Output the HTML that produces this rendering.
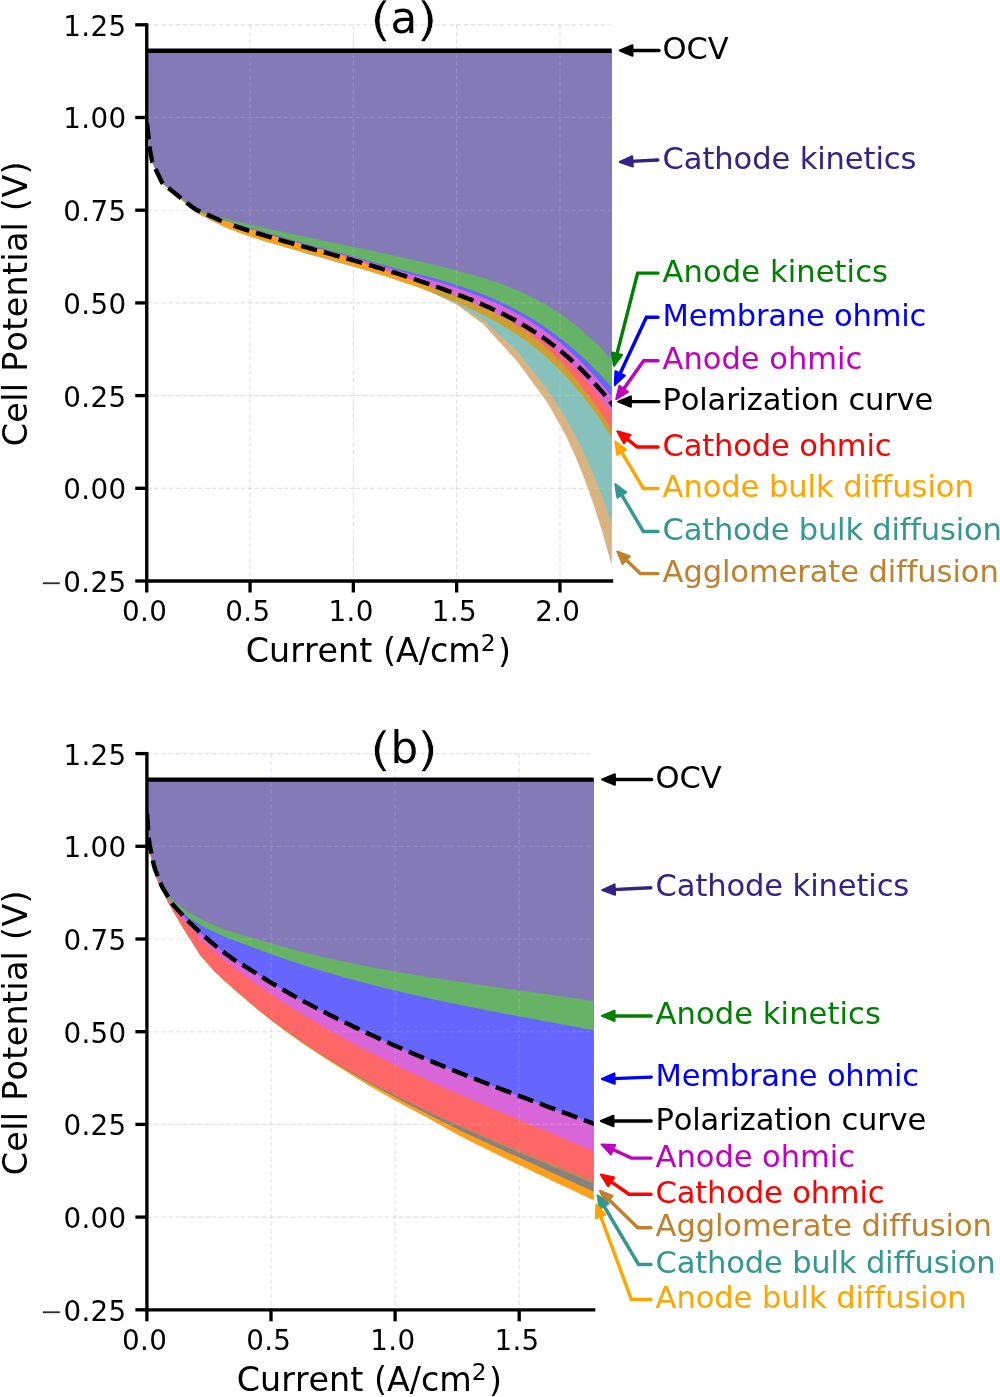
<!DOCTYPE html>
<html><head><meta charset="utf-8"><title>Polarization curve breakdown</title>
<style>html,body{margin:0;padding:0;background:#fff}svg{display:block}text{font-family:'DejaVu Sans','Liberation Sans',sans-serif;font-variant-ligatures:none;font-kerning:none}.g{stroke:#b0b0b0;stroke-opacity:.36;stroke-width:1.15;stroke-dasharray:4.6 2.6;fill:none}.s{stroke:#000;stroke-width:3.33;fill:none}.t{letter-spacing:.33px}</style></head><body>
<svg width="1000" height="1397" viewBox="0 0 1000 1397">
<rect width="1000" height="1397" fill="#fff"/>
<g id="panel-a">
<line x1="146.8" x2="146.8" y1="24.8" y2="581.0" class="g"/>
<line x1="250.1" x2="250.1" y1="24.8" y2="581.0" class="g"/>
<line x1="353.4" x2="353.4" y1="24.8" y2="581.0" class="g"/>
<line x1="456.6" x2="456.6" y1="24.8" y2="581.0" class="g"/>
<line x1="560.0" x2="560.0" y1="24.8" y2="581.0" class="g"/>
<line x1="146.8" x2="611.6" y1="24.8" y2="24.8" class="g"/>
<line x1="146.8" x2="611.6" y1="117.5" y2="117.5" class="g"/>
<line x1="146.8" x2="611.6" y1="210.2" y2="210.2" class="g"/>
<line x1="146.8" x2="611.6" y1="302.9" y2="302.9" class="g"/>
<line x1="146.8" x2="611.6" y1="395.6" y2="395.6" class="g"/>
<line x1="146.8" x2="611.6" y1="488.3" y2="488.3" class="g"/>
<line x1="146.8" x2="611.6" y1="581.0" y2="581.0" class="g"/>
<clipPath id="ca"><rect x="146.8" y="0" width="465.0" height="700"/></clipPath>
<clipPath id="fa"><polygon points="146.9,50.8 148.3,50.8 149.6,50.8 151.0,50.8 152.3,50.8 153.7,50.8 155.1,50.8 156.4,50.8 157.8,50.8 159.2,50.8 160.5,50.8 161.9,50.8 163.2,50.8 164.6,50.8 166.0,50.8 167.3,50.8 168.7,50.8 170.0,50.8 171.4,50.8 172.8,50.8 174.1,50.8 175.5,50.8 176.9,50.8 177.7,50.8 178.2,50.8 179.6,50.8 180.9,50.8 182.3,50.8 183.7,50.8 185.0,50.8 186.4,50.8 187.7,50.8 189.1,50.8 190.5,50.8 191.8,50.8 193.2,50.8 194.6,50.8 195.9,50.8 197.3,50.8 198.6,50.8 200.0,50.8 203.0,50.8 206.0,50.8 208.7,50.8 209.0,50.8 211.9,50.8 214.9,50.8 217.9,50.8 220.9,50.8 223.9,50.8 226.9,50.8 229.8,50.8 232.8,50.8 235.8,50.8 238.8,50.8 239.7,50.8 241.8,50.8 244.8,50.8 247.7,50.8 250.7,50.8 253.7,50.8 256.7,50.8 259.7,50.8 262.7,50.8 265.6,50.8 268.6,50.8 270.7,50.8 271.6,50.8 274.6,50.8 277.6,50.8 280.6,50.8 283.5,50.8 286.5,50.8 289.5,50.8 292.5,50.8 295.5,50.8 298.5,50.8 301.4,50.8 301.7,50.8 304.4,50.8 307.4,50.8 310.4,50.8 313.4,50.8 316.4,50.8 319.3,50.8 322.3,50.8 325.3,50.8 328.3,50.8 331.3,50.8 332.7,50.8 334.3,50.8 337.2,50.8 340.2,50.8 343.2,50.8 346.2,50.8 349.2,50.8 352.2,50.8 355.1,50.8 358.1,50.8 361.1,50.8 363.7,50.8 364.1,50.8 367.1,50.8 370.1,50.8 373.0,50.8 376.0,50.8 379.0,50.8 382.0,50.8 385.0,50.8 388.0,50.8 390.9,50.8 393.9,50.8 394.7,50.8 396.9,50.8 399.9,50.8 402.9,50.8 405.9,50.8 408.8,50.8 411.8,50.8 414.8,50.8 417.8,50.8 420.8,50.8 423.8,50.8 425.7,50.8 426.7,50.8 429.7,50.8 432.7,50.8 435.7,50.8 438.7,50.8 441.7,50.8 444.6,50.8 447.6,50.8 450.6,50.8 453.6,50.8 456.6,50.8 456.7,50.8 459.6,50.8 462.5,50.8 465.5,50.8 468.5,50.8 471.5,50.8 474.5,50.8 477.5,50.8 480.4,50.8 483.2,50.8 483.4,50.8 486.4,50.8 489.4,50.8 492.4,50.8 495.4,50.8 498.3,50.8 501.3,50.8 504.3,50.8 507.3,50.8 510.3,50.8 513.3,50.8 516.2,50.8 517.4,50.8 519.2,50.8 522.2,50.8 525.2,50.8 528.2,50.8 531.2,50.8 534.1,50.8 537.1,50.8 540.1,50.8 543.1,50.8 546.1,50.8 548.0,50.8 549.1,50.8 552.0,50.8 555.0,50.8 558.0,50.8 561.0,50.8 564.0,50.8 566.0,50.8 567.0,50.8 569.9,50.8 572.9,50.8 575.9,50.8 578.9,50.8 581.9,50.8 584.9,50.8 587.8,50.8 590.8,50.8 593.8,50.8 596.8,50.8 599.8,50.8 602.8,50.8 605.7,50.8 608.7,50.8 611.7,50.8 614.7,50.8 614.7,573.0 611.7,564.1 608.7,554.5 605.7,543.9 602.8,533.6 599.8,523.8 596.8,514.4 593.8,505.3 590.8,496.6 587.8,488.2 584.9,480.1 581.9,472.4 578.9,465.0 575.9,457.8 572.9,451.0 569.9,444.5 567.0,438.1 566.0,436.0 564.0,432.3 561.0,426.9 558.0,421.5 555.0,416.1 552.0,410.7 549.1,405.4 548.0,403.4 546.1,400.8 543.1,396.7 540.1,392.7 537.1,388.6 534.1,384.5 531.2,380.5 528.2,376.4 525.2,372.3 522.2,368.3 519.2,364.2 517.4,361.7 516.2,360.4 513.3,357.1 510.3,353.9 507.3,350.6 504.3,347.3 501.3,344.0 498.3,340.7 495.4,337.5 492.4,334.2 489.4,330.9 486.4,327.6 483.4,324.3 483.2,324.1 480.4,322.1 477.5,319.9 474.5,317.7 471.5,315.5 468.5,313.3 465.5,311.2 462.5,309.0 459.6,306.8 456.7,304.7 456.6,304.6 453.6,303.2 450.6,301.7 447.6,300.3 444.6,298.8 441.7,297.4 438.7,295.9 435.7,294.5 432.7,293.0 429.7,291.6 426.7,290.4 425.7,290.0 423.8,289.3 420.8,288.2 417.8,287.1 414.8,286.1 411.8,285.0 408.8,284.0 405.9,283.0 402.9,281.9 399.9,280.9 396.9,279.9 394.7,279.2 393.9,278.9 390.9,278.0 388.0,277.0 385.0,276.0 382.0,275.1 379.0,274.1 376.0,273.2 373.0,272.3 370.1,271.4 367.1,270.5 364.1,269.6 363.7,269.5 361.1,268.8 358.1,268.0 355.1,267.1 352.2,266.3 349.2,265.5 346.2,264.7 343.2,263.9 340.2,263.1 337.2,262.3 334.3,261.5 332.7,261.0 331.3,260.6 328.3,259.8 325.3,258.9 322.3,258.1 319.3,257.2 316.4,256.4 313.4,255.5 310.4,254.7 307.4,253.9 304.4,253.0 301.7,252.2 301.4,252.1 298.5,251.2 295.5,250.2 292.5,249.2 289.5,248.2 286.5,247.4 283.5,246.5 280.6,245.7 277.6,244.8 274.6,244.0 271.6,243.1 270.7,242.9 268.6,242.2 265.6,241.4 262.7,240.4 259.7,239.5 256.7,238.6 253.7,237.6 250.7,236.6 247.7,235.6 244.8,234.6 241.8,233.5 239.7,232.8 238.8,232.4 235.8,231.3 232.8,230.1 229.8,228.9 226.9,227.7 223.9,226.4 220.9,225.0 217.9,223.5 214.9,222.3 211.9,220.9 209.0,219.4 208.7,219.2 206.0,217.8 203.0,216.2 200.0,214.7 198.6,214.0 197.3,213.3 195.9,212.4 194.6,211.4 193.2,210.2 191.8,209.1 190.5,207.9 189.1,206.8 187.7,205.5 186.4,204.3 185.0,203.1 183.7,201.9 182.3,200.6 180.9,199.4 179.6,198.2 178.2,197.0 177.7,196.6 176.9,195.8 175.5,194.6 174.1,193.4 172.8,192.2 171.4,191.0 170.0,189.8 168.7,188.7 167.3,187.5 166.0,186.3 164.6,185.1 163.2,183.9 161.9,182.3 160.5,179.4 159.2,176.5 157.8,173.7 156.4,170.8 155.1,167.9 153.7,165.0 152.3,162.1 151.0,155.7 149.6,148.1 148.3,134.4 146.9,117.0"/></clipPath>
<g clip-path="url(#ca)">
<polygon points="146.9,50.8 148.3,50.8 149.6,50.8 151.0,50.8 152.3,50.8 153.7,50.8 155.1,50.8 156.4,50.8 157.8,50.8 159.2,50.8 160.5,50.8 161.9,50.8 163.2,50.8 164.6,50.8 166.0,50.8 167.3,50.8 168.7,50.8 170.0,50.8 171.4,50.8 172.8,50.8 174.1,50.8 175.5,50.8 176.9,50.8 177.7,50.8 178.2,50.8 179.6,50.8 180.9,50.8 182.3,50.8 183.7,50.8 185.0,50.8 186.4,50.8 187.7,50.8 189.1,50.8 190.5,50.8 191.8,50.8 193.2,50.8 194.6,50.8 195.9,50.8 197.3,50.8 198.6,50.8 200.0,50.8 203.0,50.8 206.0,50.8 208.7,50.8 209.0,50.8 211.9,50.8 214.9,50.8 217.9,50.8 220.9,50.8 223.9,50.8 226.9,50.8 229.8,50.8 232.8,50.8 235.8,50.8 238.8,50.8 239.7,50.8 241.8,50.8 244.8,50.8 247.7,50.8 250.7,50.8 253.7,50.8 256.7,50.8 259.7,50.8 262.7,50.8 265.6,50.8 268.6,50.8 270.7,50.8 271.6,50.8 274.6,50.8 277.6,50.8 280.6,50.8 283.5,50.8 286.5,50.8 289.5,50.8 292.5,50.8 295.5,50.8 298.5,50.8 301.4,50.8 301.7,50.8 304.4,50.8 307.4,50.8 310.4,50.8 313.4,50.8 316.4,50.8 319.3,50.8 322.3,50.8 325.3,50.8 328.3,50.8 331.3,50.8 332.7,50.8 334.3,50.8 337.2,50.8 340.2,50.8 343.2,50.8 346.2,50.8 349.2,50.8 352.2,50.8 355.1,50.8 358.1,50.8 361.1,50.8 363.7,50.8 364.1,50.8 367.1,50.8 370.1,50.8 373.0,50.8 376.0,50.8 379.0,50.8 382.0,50.8 385.0,50.8 388.0,50.8 390.9,50.8 393.9,50.8 394.7,50.8 396.9,50.8 399.9,50.8 402.9,50.8 405.9,50.8 408.8,50.8 411.8,50.8 414.8,50.8 417.8,50.8 420.8,50.8 423.8,50.8 425.7,50.8 426.7,50.8 429.7,50.8 432.7,50.8 435.7,50.8 438.7,50.8 441.7,50.8 444.6,50.8 447.6,50.8 450.6,50.8 453.6,50.8 456.6,50.8 456.7,50.8 459.6,50.8 462.5,50.8 465.5,50.8 468.5,50.8 471.5,50.8 474.5,50.8 477.5,50.8 480.4,50.8 483.2,50.8 483.4,50.8 486.4,50.8 489.4,50.8 492.4,50.8 495.4,50.8 498.3,50.8 501.3,50.8 504.3,50.8 507.3,50.8 510.3,50.8 513.3,50.8 516.2,50.8 517.4,50.8 519.2,50.8 522.2,50.8 525.2,50.8 528.2,50.8 531.2,50.8 534.1,50.8 537.1,50.8 540.1,50.8 543.1,50.8 546.1,50.8 548.0,50.8 549.1,50.8 552.0,50.8 555.0,50.8 558.0,50.8 561.0,50.8 564.0,50.8 566.0,50.8 567.0,50.8 569.9,50.8 572.9,50.8 575.9,50.8 578.9,50.8 581.9,50.8 584.9,50.8 587.8,50.8 590.8,50.8 593.8,50.8 596.8,50.8 599.8,50.8 602.8,50.8 605.7,50.8 608.7,50.8 611.7,50.8 614.7,50.8 614.7,573.0 611.7,564.1 608.7,554.5 605.7,543.9 602.8,533.6 599.8,523.8 596.8,514.4 593.8,505.3 590.8,496.6 587.8,488.2 584.9,480.1 581.9,472.4 578.9,465.0 575.9,457.8 572.9,451.0 569.9,444.5 567.0,438.1 566.0,436.0 564.0,432.3 561.0,426.9 558.0,421.5 555.0,416.1 552.0,410.7 549.1,405.4 548.0,403.4 546.1,400.8 543.1,396.7 540.1,392.7 537.1,388.6 534.1,384.5 531.2,380.5 528.2,376.4 525.2,372.3 522.2,368.3 519.2,364.2 517.4,361.7 516.2,360.4 513.3,357.1 510.3,353.9 507.3,350.6 504.3,347.3 501.3,344.0 498.3,340.7 495.4,337.5 492.4,334.2 489.4,330.9 486.4,327.6 483.4,324.3 483.2,324.1 480.4,322.1 477.5,319.9 474.5,317.7 471.5,315.5 468.5,313.3 465.5,311.2 462.5,309.0 459.6,306.8 456.7,304.7 456.6,304.6 453.6,303.2 450.6,301.7 447.6,300.3 444.6,298.8 441.7,297.4 438.7,295.9 435.7,294.5 432.7,293.0 429.7,291.6 426.7,290.4 425.7,290.0 423.8,289.3 420.8,288.2 417.8,287.1 414.8,286.1 411.8,285.0 408.8,284.0 405.9,283.0 402.9,281.9 399.9,280.9 396.9,279.9 394.7,279.2 393.9,278.9 390.9,278.0 388.0,277.0 385.0,276.0 382.0,275.1 379.0,274.1 376.0,273.2 373.0,272.3 370.1,271.4 367.1,270.5 364.1,269.6 363.7,269.5 361.1,268.8 358.1,268.0 355.1,267.1 352.2,266.3 349.2,265.5 346.2,264.7 343.2,263.9 340.2,263.1 337.2,262.3 334.3,261.5 332.7,261.0 331.3,260.6 328.3,259.8 325.3,258.9 322.3,258.1 319.3,257.2 316.4,256.4 313.4,255.5 310.4,254.7 307.4,253.9 304.4,253.0 301.7,252.2 301.4,252.1 298.5,251.2 295.5,250.2 292.5,249.2 289.5,248.2 286.5,247.4 283.5,246.5 280.6,245.7 277.6,244.8 274.6,244.0 271.6,243.1 270.7,242.9 268.6,242.2 265.6,241.4 262.7,240.4 259.7,239.5 256.7,238.6 253.7,237.6 250.7,236.6 247.7,235.6 244.8,234.6 241.8,233.5 239.7,232.8 238.8,232.4 235.8,231.3 232.8,230.1 229.8,228.9 226.9,227.7 223.9,226.4 220.9,225.0 217.9,223.5 214.9,222.3 211.9,220.9 209.0,219.4 208.7,219.2 206.0,217.8 203.0,216.2 200.0,214.7 198.6,214.0 197.3,213.3 195.9,212.4 194.6,211.4 193.2,210.2 191.8,209.1 190.5,207.9 189.1,206.8 187.7,205.5 186.4,204.3 185.0,203.1 183.7,201.9 182.3,200.6 180.9,199.4 179.6,198.2 178.2,197.0 177.7,196.6 176.9,195.8 175.5,194.6 174.1,193.4 172.8,192.2 171.4,191.0 170.0,189.8 168.7,188.7 167.3,187.5 166.0,186.3 164.6,185.1 163.2,183.9 161.9,182.3 160.5,179.4 159.2,176.5 157.8,173.7 156.4,170.8 155.1,167.9 153.7,165.0 152.3,162.1 151.0,155.7 149.6,148.1 148.3,134.4 146.9,117.0" fill="#d9b381"/>
<polygon points="146.9,50.8 148.3,50.8 149.6,50.8 151.0,50.8 152.3,50.8 153.7,50.8 155.1,50.8 156.4,50.8 157.8,50.8 159.2,50.8 160.5,50.8 161.9,50.8 163.2,50.8 164.6,50.8 166.0,50.8 167.3,50.8 168.7,50.8 170.0,50.8 171.4,50.8 172.8,50.8 174.1,50.8 175.5,50.8 176.9,50.8 177.7,50.8 178.2,50.8 179.6,50.8 180.9,50.8 182.3,50.8 183.7,50.8 185.0,50.8 186.4,50.8 187.7,50.8 189.1,50.8 190.5,50.8 191.8,50.8 193.2,50.8 194.6,50.8 195.9,50.8 197.3,50.8 198.6,50.8 200.0,50.8 203.0,50.8 206.0,50.8 208.7,50.8 209.0,50.8 211.9,50.8 214.9,50.8 217.9,50.8 220.9,50.8 223.9,50.8 226.9,50.8 229.8,50.8 232.8,50.8 235.8,50.8 238.8,50.8 239.7,50.8 241.8,50.8 244.8,50.8 247.7,50.8 250.7,50.8 253.7,50.8 256.7,50.8 259.7,50.8 262.7,50.8 265.6,50.8 268.6,50.8 270.7,50.8 271.6,50.8 274.6,50.8 277.6,50.8 280.6,50.8 283.5,50.8 286.5,50.8 289.5,50.8 292.5,50.8 295.5,50.8 298.5,50.8 301.4,50.8 301.7,50.8 304.4,50.8 307.4,50.8 310.4,50.8 313.4,50.8 316.4,50.8 319.3,50.8 322.3,50.8 325.3,50.8 328.3,50.8 331.3,50.8 332.7,50.8 334.3,50.8 337.2,50.8 340.2,50.8 343.2,50.8 346.2,50.8 349.2,50.8 352.2,50.8 355.1,50.8 358.1,50.8 361.1,50.8 363.7,50.8 364.1,50.8 367.1,50.8 370.1,50.8 373.0,50.8 376.0,50.8 379.0,50.8 382.0,50.8 385.0,50.8 388.0,50.8 390.9,50.8 393.9,50.8 394.7,50.8 396.9,50.8 399.9,50.8 402.9,50.8 405.9,50.8 408.8,50.8 411.8,50.8 414.8,50.8 417.8,50.8 420.8,50.8 423.8,50.8 425.7,50.8 426.7,50.8 429.7,50.8 432.7,50.8 435.7,50.8 438.7,50.8 441.7,50.8 444.6,50.8 447.6,50.8 450.6,50.8 453.6,50.8 456.6,50.8 456.7,50.8 459.6,50.8 462.5,50.8 465.5,50.8 468.5,50.8 471.5,50.8 474.5,50.8 477.5,50.8 480.4,50.8 483.2,50.8 483.4,50.8 486.4,50.8 489.4,50.8 492.4,50.8 495.4,50.8 498.3,50.8 501.3,50.8 504.3,50.8 507.3,50.8 510.3,50.8 513.3,50.8 516.2,50.8 517.4,50.8 519.2,50.8 522.2,50.8 525.2,50.8 528.2,50.8 531.2,50.8 534.1,50.8 537.1,50.8 540.1,50.8 543.1,50.8 546.1,50.8 548.0,50.8 549.1,50.8 552.0,50.8 555.0,50.8 558.0,50.8 561.0,50.8 564.0,50.8 566.0,50.8 567.0,50.8 569.9,50.8 572.9,50.8 575.9,50.8 578.9,50.8 581.9,50.8 584.9,50.8 587.8,50.8 590.8,50.8 593.8,50.8 596.8,50.8 599.8,50.8 602.8,50.8 605.7,50.8 608.7,50.8 611.7,50.8 614.7,50.8 614.7,529.4 611.7,522.5 608.7,514.9 605.7,506.5 602.8,498.3 599.8,490.5 596.8,482.8 593.8,475.5 590.8,468.4 587.8,461.6 584.9,455.0 581.9,448.6 578.9,442.5 575.9,436.6 572.9,430.9 569.9,425.4 567.0,420.0 566.0,418.3 564.0,415.1 561.0,410.5 558.0,405.9 555.0,401.2 552.0,396.6 549.1,392.0 548.0,390.3 546.1,387.9 543.1,384.0 540.1,380.2 537.1,376.4 534.1,372.6 531.2,368.8 528.2,365.0 525.2,361.2 522.2,357.4 519.2,353.5 517.4,351.2 516.2,350.1 513.3,347.4 510.3,344.6 507.3,341.9 504.3,339.1 501.3,336.4 498.3,333.6 495.4,330.9 492.4,328.1 489.4,325.4 486.4,322.6 483.4,319.9 483.2,319.7 480.4,318.0 477.5,316.2 474.5,314.4 471.5,312.5 468.5,310.7 465.5,308.9 462.5,307.1 459.6,305.3 456.7,303.5 456.6,303.5 453.6,302.1 450.6,300.8 447.6,299.5 444.6,298.1 441.7,296.8 438.7,295.5 435.7,294.1 432.7,292.8 429.7,291.5 426.7,290.4 425.7,290.0 423.8,289.3 420.8,288.2 417.8,287.1 414.8,286.1 411.8,285.0 408.8,284.0 405.9,283.0 402.9,281.9 399.9,280.9 396.9,279.9 394.7,279.2 393.9,278.9 390.9,278.0 388.0,277.0 385.0,276.0 382.0,275.1 379.0,274.1 376.0,273.2 373.0,272.3 370.1,271.4 367.1,270.5 364.1,269.6 363.7,269.5 361.1,268.8 358.1,268.0 355.1,267.1 352.2,266.3 349.2,265.5 346.2,264.7 343.2,263.8 340.2,263.0 337.2,262.2 334.3,261.4 332.7,261.0 331.3,260.5 328.3,259.7 325.3,258.8 322.3,258.0 319.3,257.1 316.4,256.2 313.4,255.4 310.4,254.5 307.4,253.7 304.4,252.8 301.7,252.0 301.4,251.9 298.5,251.0 295.5,250.0 292.5,249.0 289.5,248.2 286.5,247.4 283.5,246.5 280.6,245.7 277.6,244.8 274.6,244.0 271.6,243.1 270.7,242.9 268.6,242.2 265.6,241.4 262.7,240.4 259.7,239.5 256.7,238.6 253.7,237.6 250.7,236.6 247.7,235.6 244.8,234.6 241.8,233.5 239.7,232.8 238.8,232.4 235.8,231.3 232.8,230.1 229.8,228.9 226.9,227.7 223.9,226.4 220.9,225.0 217.9,223.5 214.9,222.3 211.9,220.9 209.0,219.4 208.7,219.2 206.0,217.8 203.0,216.2 200.0,214.7 198.6,214.0 197.3,213.3 195.9,212.4 194.6,211.4 193.2,210.2 191.8,209.1 190.5,207.9 189.1,206.7 187.7,205.5 186.4,204.3 185.0,203.1 183.7,201.9 182.3,200.6 180.9,199.4 179.6,198.2 178.2,197.0 177.7,196.6 176.9,195.8 175.5,194.6 174.1,193.4 172.8,192.2 171.4,191.0 170.0,189.8 168.7,188.7 167.3,187.5 166.0,186.3 164.6,185.1 163.2,183.9 161.9,182.3 160.5,179.4 159.2,176.5 157.8,173.7 156.4,170.8 155.1,167.9 153.7,165.0 152.3,162.1 151.0,155.7 149.6,148.1 148.3,134.4 146.9,117.0" fill="#86c1bc"/>
<linearGradient id="og" gradientUnits="userSpaceOnUse" x1="416" y1="0" x2="438" y2="0"><stop offset="0" stop-color="#ff9f1a"/><stop offset="1" stop-color="#cda02d"/></linearGradient>
<polygon points="146.9,50.8 148.3,50.8 149.6,50.8 151.0,50.8 152.3,50.8 153.7,50.8 155.1,50.8 156.4,50.8 157.8,50.8 159.2,50.8 160.5,50.8 161.9,50.8 163.2,50.8 164.6,50.8 166.0,50.8 167.3,50.8 168.7,50.8 170.0,50.8 171.4,50.8 172.8,50.8 174.1,50.8 175.5,50.8 176.9,50.8 177.7,50.8 178.2,50.8 179.6,50.8 180.9,50.8 182.3,50.8 183.7,50.8 185.0,50.8 186.4,50.8 187.7,50.8 189.1,50.8 190.5,50.8 191.8,50.8 193.2,50.8 194.6,50.8 195.9,50.8 197.3,50.8 198.6,50.8 200.0,50.8 203.0,50.8 206.0,50.8 208.7,50.8 209.0,50.8 211.9,50.8 214.9,50.8 217.9,50.8 220.9,50.8 223.9,50.8 226.9,50.8 229.8,50.8 232.8,50.8 235.8,50.8 238.8,50.8 239.7,50.8 241.8,50.8 244.8,50.8 247.7,50.8 250.7,50.8 253.7,50.8 256.7,50.8 259.7,50.8 262.7,50.8 265.6,50.8 268.6,50.8 270.7,50.8 271.6,50.8 274.6,50.8 277.6,50.8 280.6,50.8 283.5,50.8 286.5,50.8 289.5,50.8 292.5,50.8 295.5,50.8 298.5,50.8 301.4,50.8 301.7,50.8 304.4,50.8 307.4,50.8 310.4,50.8 313.4,50.8 316.4,50.8 319.3,50.8 322.3,50.8 325.3,50.8 328.3,50.8 331.3,50.8 332.7,50.8 334.3,50.8 337.2,50.8 340.2,50.8 343.2,50.8 346.2,50.8 349.2,50.8 352.2,50.8 355.1,50.8 358.1,50.8 361.1,50.8 363.7,50.8 364.1,50.8 367.1,50.8 370.1,50.8 373.0,50.8 376.0,50.8 379.0,50.8 382.0,50.8 385.0,50.8 388.0,50.8 390.9,50.8 393.9,50.8 394.7,50.8 396.9,50.8 399.9,50.8 402.9,50.8 405.9,50.8 408.8,50.8 411.8,50.8 414.8,50.8 417.8,50.8 420.8,50.8 423.8,50.8 425.7,50.8 426.7,50.8 429.7,50.8 432.7,50.8 435.7,50.8 438.7,50.8 441.7,50.8 444.6,50.8 447.6,50.8 450.6,50.8 453.6,50.8 456.6,50.8 456.7,50.8 459.6,50.8 462.5,50.8 465.5,50.8 468.5,50.8 471.5,50.8 474.5,50.8 477.5,50.8 480.4,50.8 483.2,50.8 483.4,50.8 486.4,50.8 489.4,50.8 492.4,50.8 495.4,50.8 498.3,50.8 501.3,50.8 504.3,50.8 507.3,50.8 510.3,50.8 513.3,50.8 516.2,50.8 517.4,50.8 519.2,50.8 522.2,50.8 525.2,50.8 528.2,50.8 531.2,50.8 534.1,50.8 537.1,50.8 540.1,50.8 543.1,50.8 546.1,50.8 548.0,50.8 549.1,50.8 552.0,50.8 555.0,50.8 558.0,50.8 561.0,50.8 564.0,50.8 566.0,50.8 567.0,50.8 569.9,50.8 572.9,50.8 575.9,50.8 578.9,50.8 581.9,50.8 584.9,50.8 587.8,50.8 590.8,50.8 593.8,50.8 596.8,50.8 599.8,50.8 602.8,50.8 605.7,50.8 608.7,50.8 611.7,50.8 614.7,50.8 614.7,442.5 611.7,437.6 608.7,432.8 605.7,428.1 602.8,423.5 599.8,419.1 596.8,414.8 593.8,410.6 590.8,406.5 587.8,402.5 584.9,398.7 581.9,394.9 578.9,391.2 575.9,387.7 572.9,384.2 569.9,380.8 567.0,377.6 566.0,376.5 564.0,374.4 561.0,371.3 558.0,368.3 555.0,365.4 552.0,362.5 549.1,359.8 548.0,358.8 546.1,357.1 543.1,354.5 540.1,352.0 537.1,349.5 534.1,347.1 531.2,344.8 528.2,342.6 525.2,340.4 522.2,338.3 519.2,336.2 517.4,334.9 516.2,334.2 513.3,332.2 510.3,330.3 507.3,328.4 504.3,326.6 501.3,324.9 498.3,323.1 495.4,321.5 492.4,319.8 489.4,318.2 486.4,316.6 483.4,315.1 483.2,315.0 480.4,313.6 477.5,312.1 474.5,310.6 471.5,309.2 468.5,307.8 465.5,306.4 462.5,305.1 459.6,303.7 456.7,302.5 456.6,302.4 453.6,301.1 450.6,299.9 447.6,298.6 444.6,297.4 441.7,296.2 438.7,295.0 435.7,293.8 432.7,292.7 429.7,291.5 426.7,290.4 425.7,290.0 423.8,289.3 420.8,288.2 417.8,287.1 414.8,286.1 411.8,285.0 408.8,284.0 405.9,283.0 402.9,281.9 399.9,280.9 396.9,279.9 394.7,279.2 393.9,278.9 390.9,278.0 388.0,277.0 385.0,276.0 382.0,275.1 379.0,274.1 376.0,273.2 373.0,272.2 370.1,271.3 367.1,270.4 364.1,269.5 363.7,269.4 361.1,268.6 358.1,267.7 355.1,266.8 352.2,265.9 349.2,265.0 346.2,264.1 343.2,263.3 340.2,262.4 337.2,261.5 334.3,260.7 332.7,260.2 331.3,259.8 328.3,259.0 325.3,258.1 322.3,257.3 319.3,256.4 316.4,255.6 313.4,254.8 310.4,254.0 307.4,253.1 304.4,252.3 301.7,251.5 301.4,251.5 298.5,250.7 295.5,249.8 292.5,249.0 289.5,248.2 286.5,247.4 283.5,246.5 280.6,245.7 277.6,244.8 274.6,244.0 271.6,243.1 270.7,242.9 268.6,242.2 265.6,241.4 262.7,240.4 259.7,239.5 256.7,238.6 253.7,237.6 250.7,236.6 247.7,235.6 244.8,234.6 241.8,233.5 239.7,232.8 238.8,232.4 235.8,231.3 232.8,230.1 229.8,228.9 226.9,227.7 223.9,226.4 220.9,225.0 217.9,223.5 214.9,222.0 211.9,220.4 209.0,218.8 208.7,218.6 206.0,217.2 203.0,215.6 200.0,214.0 198.6,213.4 197.3,212.7 195.9,211.9 194.6,210.9 193.2,209.8 191.8,208.7 190.5,207.6 189.1,206.5 187.7,205.3 186.4,204.1 185.0,202.9 183.7,201.8 182.3,200.6 180.9,199.4 179.6,198.2 178.2,197.0 177.7,196.5 176.9,195.8 175.5,194.6 174.1,193.4 172.8,192.2 171.4,191.0 170.0,189.8 168.7,188.7 167.3,187.5 166.0,186.3 164.6,185.1 163.2,183.9 161.9,182.3 160.5,179.4 159.2,176.5 157.8,173.7 156.4,170.8 155.1,167.9 153.7,165.0 152.3,162.1 151.0,155.7 149.6,148.1 148.3,134.4 146.9,117.0" fill="url(#og)"/>
<polygon points="146.9,50.8 148.3,50.8 149.6,50.8 151.0,50.8 152.3,50.8 153.7,50.8 155.1,50.8 156.4,50.8 157.8,50.8 159.2,50.8 160.5,50.8 161.9,50.8 163.2,50.8 164.6,50.8 166.0,50.8 167.3,50.8 168.7,50.8 170.0,50.8 171.4,50.8 172.8,50.8 174.1,50.8 175.5,50.8 176.9,50.8 177.7,50.8 178.2,50.8 179.6,50.8 180.9,50.8 182.3,50.8 183.7,50.8 185.0,50.8 186.4,50.8 187.7,50.8 189.1,50.8 190.5,50.8 191.8,50.8 193.2,50.8 194.6,50.8 195.9,50.8 197.3,50.8 198.6,50.8 200.0,50.8 203.0,50.8 206.0,50.8 208.7,50.8 209.0,50.8 211.9,50.8 214.9,50.8 217.9,50.8 220.9,50.8 223.9,50.8 226.9,50.8 229.8,50.8 232.8,50.8 235.8,50.8 238.8,50.8 239.7,50.8 241.8,50.8 244.8,50.8 247.7,50.8 250.7,50.8 253.7,50.8 256.7,50.8 259.7,50.8 262.7,50.8 265.6,50.8 268.6,50.8 270.7,50.8 271.6,50.8 274.6,50.8 277.6,50.8 280.6,50.8 283.5,50.8 286.5,50.8 289.5,50.8 292.5,50.8 295.5,50.8 298.5,50.8 301.4,50.8 301.7,50.8 304.4,50.8 307.4,50.8 310.4,50.8 313.4,50.8 316.4,50.8 319.3,50.8 322.3,50.8 325.3,50.8 328.3,50.8 331.3,50.8 332.7,50.8 334.3,50.8 337.2,50.8 340.2,50.8 343.2,50.8 346.2,50.8 349.2,50.8 352.2,50.8 355.1,50.8 358.1,50.8 361.1,50.8 363.7,50.8 364.1,50.8 367.1,50.8 370.1,50.8 373.0,50.8 376.0,50.8 379.0,50.8 382.0,50.8 385.0,50.8 388.0,50.8 390.9,50.8 393.9,50.8 394.7,50.8 396.9,50.8 399.9,50.8 402.9,50.8 405.9,50.8 408.8,50.8 411.8,50.8 414.8,50.8 417.8,50.8 420.8,50.8 423.8,50.8 425.7,50.8 426.7,50.8 429.7,50.8 432.7,50.8 435.7,50.8 438.7,50.8 441.7,50.8 444.6,50.8 447.6,50.8 450.6,50.8 453.6,50.8 456.6,50.8 456.7,50.8 459.6,50.8 462.5,50.8 465.5,50.8 468.5,50.8 471.5,50.8 474.5,50.8 477.5,50.8 480.4,50.8 483.2,50.8 483.4,50.8 486.4,50.8 489.4,50.8 492.4,50.8 495.4,50.8 498.3,50.8 501.3,50.8 504.3,50.8 507.3,50.8 510.3,50.8 513.3,50.8 516.2,50.8 517.4,50.8 519.2,50.8 522.2,50.8 525.2,50.8 528.2,50.8 531.2,50.8 534.1,50.8 537.1,50.8 540.1,50.8 543.1,50.8 546.1,50.8 548.0,50.8 549.1,50.8 552.0,50.8 555.0,50.8 558.0,50.8 561.0,50.8 564.0,50.8 566.0,50.8 567.0,50.8 569.9,50.8 572.9,50.8 575.9,50.8 578.9,50.8 581.9,50.8 584.9,50.8 587.8,50.8 590.8,50.8 593.8,50.8 596.8,50.8 599.8,50.8 602.8,50.8 605.7,50.8 608.7,50.8 611.7,50.8 614.7,50.8 614.7,435.0 611.7,429.8 608.7,424.8 605.7,420.1 602.8,415.5 599.8,411.1 596.8,406.9 593.8,402.7 590.8,398.6 587.8,394.6 584.9,390.7 581.9,386.8 578.9,383.0 575.9,379.3 572.9,375.6 569.9,372.1 567.0,368.6 566.0,367.5 564.0,365.3 561.0,362.0 558.0,358.9 555.0,355.9 552.0,352.9 549.1,350.1 548.0,349.1 546.1,347.4 543.1,344.8 540.1,342.3 537.1,339.8 534.1,337.5 531.2,335.2 528.2,333.0 525.2,330.9 522.2,328.8 519.2,326.9 517.4,325.7 516.2,325.0 513.3,323.1 510.3,321.3 507.3,319.6 504.3,317.9 501.3,316.3 498.3,314.7 495.4,313.2 492.4,311.7 489.4,310.3 486.4,309.0 483.4,307.6 483.2,307.5 480.4,306.3 477.5,305.0 474.5,303.6 471.5,302.4 468.5,301.1 465.5,299.8 462.5,298.6 459.6,297.4 456.7,296.2 456.6,296.1 453.6,294.9 450.6,293.8 447.6,292.6 444.6,291.4 441.7,290.3 438.7,289.2 435.7,288.0 432.7,286.9 429.7,285.8 426.7,284.7 425.7,284.3 423.8,283.7 420.8,282.7 417.8,281.6 414.8,280.6 411.8,279.6 408.8,278.7 405.9,277.7 402.9,276.7 399.9,275.7 396.9,274.7 394.7,273.8 393.9,273.6 390.9,272.5 388.0,271.4 385.0,270.4 382.0,269.3 379.0,268.3 376.0,267.2 373.0,266.1 370.1,265.1 367.1,264.0 364.1,263.0 363.7,262.9 361.1,261.9 358.1,260.9 355.1,259.8 352.2,258.8 349.2,257.8 346.2,256.9 343.2,255.9 340.2,255.0 337.2,254.1 334.3,253.1 332.7,252.7 331.3,252.2 328.3,251.3 325.3,250.4 322.3,249.5 319.3,248.7 316.4,247.8 313.4,246.9 310.4,246.1 307.4,245.3 304.4,244.4 301.7,243.7 301.4,243.6 298.5,242.8 295.5,242.0 292.5,241.2 289.5,240.3 286.5,239.5 283.5,238.6 280.6,237.8 277.6,236.9 274.6,236.1 271.6,235.2 270.7,234.9 268.6,234.3 265.6,233.4 262.7,232.6 259.7,231.7 256.7,230.8 253.7,229.8 250.7,228.9 247.7,228.0 244.8,227.0 241.8,226.1 239.7,225.4 238.8,225.1 235.8,224.1 232.8,223.1 229.8,222.2 226.9,221.5 223.9,220.7 220.9,219.9 217.9,219.0 214.9,218.0 211.9,216.9 209.0,215.7 208.7,215.7 206.0,214.6 203.0,213.4 200.0,212.2 198.6,211.6 197.3,211.0 195.9,210.2 194.6,209.2 193.2,208.2 191.8,207.2 190.5,206.1 189.1,205.0 187.7,203.9 186.4,202.8 185.0,201.6 183.7,200.5 182.3,199.3 180.9,198.2 179.6,197.1 178.2,196.0 177.7,195.6 176.9,194.8 175.5,193.7 174.1,192.6 172.8,191.5 171.4,190.4 170.0,189.3 168.7,188.2 167.3,187.1 166.0,186.0 164.6,184.9 163.2,183.8 161.9,182.3 160.5,179.4 159.2,176.5 157.8,173.7 156.4,170.8 155.1,167.9 153.7,165.0 152.3,162.1 151.0,155.7 149.6,148.1 148.3,134.4 146.9,117.0" fill="#ff6666"/>
<polygon points="146.9,50.8 148.3,50.8 149.6,50.8 151.0,50.8 152.3,50.8 153.7,50.8 155.1,50.8 156.4,50.8 157.8,50.8 159.2,50.8 160.5,50.8 161.9,50.8 163.2,50.8 164.6,50.8 166.0,50.8 167.3,50.8 168.7,50.8 170.0,50.8 171.4,50.8 172.8,50.8 174.1,50.8 175.5,50.8 176.9,50.8 177.7,50.8 178.2,50.8 179.6,50.8 180.9,50.8 182.3,50.8 183.7,50.8 185.0,50.8 186.4,50.8 187.7,50.8 189.1,50.8 190.5,50.8 191.8,50.8 193.2,50.8 194.6,50.8 195.9,50.8 197.3,50.8 198.6,50.8 200.0,50.8 203.0,50.8 206.0,50.8 208.7,50.8 209.0,50.8 211.9,50.8 214.9,50.8 217.9,50.8 220.9,50.8 223.9,50.8 226.9,50.8 229.8,50.8 232.8,50.8 235.8,50.8 238.8,50.8 239.7,50.8 241.8,50.8 244.8,50.8 247.7,50.8 250.7,50.8 253.7,50.8 256.7,50.8 259.7,50.8 262.7,50.8 265.6,50.8 268.6,50.8 270.7,50.8 271.6,50.8 274.6,50.8 277.6,50.8 280.6,50.8 283.5,50.8 286.5,50.8 289.5,50.8 292.5,50.8 295.5,50.8 298.5,50.8 301.4,50.8 301.7,50.8 304.4,50.8 307.4,50.8 310.4,50.8 313.4,50.8 316.4,50.8 319.3,50.8 322.3,50.8 325.3,50.8 328.3,50.8 331.3,50.8 332.7,50.8 334.3,50.8 337.2,50.8 340.2,50.8 343.2,50.8 346.2,50.8 349.2,50.8 352.2,50.8 355.1,50.8 358.1,50.8 361.1,50.8 363.7,50.8 364.1,50.8 367.1,50.8 370.1,50.8 373.0,50.8 376.0,50.8 379.0,50.8 382.0,50.8 385.0,50.8 388.0,50.8 390.9,50.8 393.9,50.8 394.7,50.8 396.9,50.8 399.9,50.8 402.9,50.8 405.9,50.8 408.8,50.8 411.8,50.8 414.8,50.8 417.8,50.8 420.8,50.8 423.8,50.8 425.7,50.8 426.7,50.8 429.7,50.8 432.7,50.8 435.7,50.8 438.7,50.8 441.7,50.8 444.6,50.8 447.6,50.8 450.6,50.8 453.6,50.8 456.6,50.8 456.7,50.8 459.6,50.8 462.5,50.8 465.5,50.8 468.5,50.8 471.5,50.8 474.5,50.8 477.5,50.8 480.4,50.8 483.2,50.8 483.4,50.8 486.4,50.8 489.4,50.8 492.4,50.8 495.4,50.8 498.3,50.8 501.3,50.8 504.3,50.8 507.3,50.8 510.3,50.8 513.3,50.8 516.2,50.8 517.4,50.8 519.2,50.8 522.2,50.8 525.2,50.8 528.2,50.8 531.2,50.8 534.1,50.8 537.1,50.8 540.1,50.8 543.1,50.8 546.1,50.8 548.0,50.8 549.1,50.8 552.0,50.8 555.0,50.8 558.0,50.8 561.0,50.8 564.0,50.8 566.0,50.8 567.0,50.8 569.9,50.8 572.9,50.8 575.9,50.8 578.9,50.8 581.9,50.8 584.9,50.8 587.8,50.8 590.8,50.8 593.8,50.8 596.8,50.8 599.8,50.8 602.8,50.8 605.7,50.8 608.7,50.8 611.7,50.8 614.7,50.8 614.7,417.4 611.7,413.0 608.7,408.8 605.7,404.8 602.8,400.8 599.8,396.9 596.8,393.2 593.8,389.5 590.8,386.0 587.8,382.6 584.9,379.2 581.9,376.0 578.9,372.8 575.9,369.7 572.9,366.8 569.9,363.9 567.0,361.1 566.0,360.2 564.0,358.3 561.0,355.7 558.0,353.1 555.0,350.6 552.0,348.2 549.1,345.9 548.0,345.0 546.1,343.6 543.1,341.4 540.1,339.2 537.1,337.1 534.1,335.1 531.2,333.1 528.2,331.2 525.2,329.4 522.2,327.6 519.2,325.8 517.4,324.7 516.2,324.1 513.3,322.4 510.3,320.8 507.3,319.2 504.3,317.6 501.3,316.1 498.3,314.6 495.4,313.2 492.4,311.7 489.4,310.3 486.4,309.0 483.4,307.6 483.2,307.5 480.4,306.3 477.5,305.0 474.5,303.6 471.5,302.4 468.5,301.1 465.5,299.8 462.5,298.6 459.6,297.4 456.7,296.2 456.6,296.1 453.6,294.9 450.6,293.8 447.6,292.6 444.6,291.4 441.7,290.3 438.7,289.2 435.7,288.0 432.7,286.9 429.7,285.8 426.7,284.7 425.7,284.3 423.8,283.7 420.8,282.6 417.8,281.6 414.8,280.5 411.8,279.5 408.8,278.5 405.9,277.4 402.9,276.4 399.9,275.4 396.9,274.3 394.7,273.5 393.9,273.2 390.9,272.1 388.0,271.0 385.0,269.9 382.0,268.9 379.0,267.8 376.0,266.7 373.0,265.7 370.1,264.6 367.1,263.6 364.1,262.5 363.7,262.4 361.1,261.5 358.1,260.4 355.1,259.4 352.2,258.4 349.2,257.4 346.2,256.5 343.2,255.6 340.2,254.7 337.2,253.9 334.3,253.0 332.7,252.5 331.3,252.1 328.3,251.3 325.3,250.4 322.3,249.5 319.3,248.7 316.4,247.8 313.4,246.9 310.4,246.1 307.4,245.3 304.4,244.4 301.7,243.7 301.4,243.6 298.5,242.8 295.5,242.0 292.5,241.2 289.5,240.3 286.5,239.5 283.5,238.6 280.6,237.8 277.6,236.9 274.6,236.1 271.6,235.2 270.7,234.9 268.6,234.3 265.6,233.4 262.7,232.6 259.7,231.7 256.7,230.8 253.7,229.8 250.7,228.9 247.7,228.0 244.8,227.0 241.8,226.1 239.7,225.4 238.8,225.1 235.8,224.1 232.8,223.1 229.8,222.1 226.9,221.2 223.9,220.4 220.9,219.4 217.9,218.4 214.9,217.3 211.9,216.3 209.0,215.1 208.7,215.1 206.0,214.0 203.0,212.9 200.0,211.8 198.6,211.2 197.3,210.6 195.9,209.9 194.6,208.9 193.2,208.0 191.8,206.9 190.5,205.9 189.1,204.8 187.7,203.7 186.4,202.6 185.0,201.5 183.7,200.4 182.3,199.3 180.9,198.2 179.6,197.1 178.2,195.9 177.7,195.6 176.9,194.8 175.5,193.7 174.1,192.6 172.8,191.5 171.4,190.4 170.0,189.3 168.7,188.2 167.3,187.1 166.0,186.0 164.6,184.9 163.2,183.8 161.9,182.3 160.5,179.4 159.2,176.5 157.8,173.7 156.4,170.8 155.1,167.9 153.7,165.0 152.3,162.1 151.0,155.7 149.6,148.1 148.3,134.4 146.9,117.0" fill="#d966d9"/>
<polygon points="146.9,50.8 148.3,50.8 149.6,50.8 151.0,50.8 152.3,50.8 153.7,50.8 155.1,50.8 156.4,50.8 157.8,50.8 159.2,50.8 160.5,50.8 161.9,50.8 163.2,50.8 164.6,50.8 166.0,50.8 167.3,50.8 168.7,50.8 170.0,50.8 171.4,50.8 172.8,50.8 174.1,50.8 175.5,50.8 176.9,50.8 177.7,50.8 178.2,50.8 179.6,50.8 180.9,50.8 182.3,50.8 183.7,50.8 185.0,50.8 186.4,50.8 187.7,50.8 189.1,50.8 190.5,50.8 191.8,50.8 193.2,50.8 194.6,50.8 195.9,50.8 197.3,50.8 198.6,50.8 200.0,50.8 203.0,50.8 206.0,50.8 208.7,50.8 209.0,50.8 211.9,50.8 214.9,50.8 217.9,50.8 220.9,50.8 223.9,50.8 226.9,50.8 229.8,50.8 232.8,50.8 235.8,50.8 238.8,50.8 239.7,50.8 241.8,50.8 244.8,50.8 247.7,50.8 250.7,50.8 253.7,50.8 256.7,50.8 259.7,50.8 262.7,50.8 265.6,50.8 268.6,50.8 270.7,50.8 271.6,50.8 274.6,50.8 277.6,50.8 280.6,50.8 283.5,50.8 286.5,50.8 289.5,50.8 292.5,50.8 295.5,50.8 298.5,50.8 301.4,50.8 301.7,50.8 304.4,50.8 307.4,50.8 310.4,50.8 313.4,50.8 316.4,50.8 319.3,50.8 322.3,50.8 325.3,50.8 328.3,50.8 331.3,50.8 332.7,50.8 334.3,50.8 337.2,50.8 340.2,50.8 343.2,50.8 346.2,50.8 349.2,50.8 352.2,50.8 355.1,50.8 358.1,50.8 361.1,50.8 363.7,50.8 364.1,50.8 367.1,50.8 370.1,50.8 373.0,50.8 376.0,50.8 379.0,50.8 382.0,50.8 385.0,50.8 388.0,50.8 390.9,50.8 393.9,50.8 394.7,50.8 396.9,50.8 399.9,50.8 402.9,50.8 405.9,50.8 408.8,50.8 411.8,50.8 414.8,50.8 417.8,50.8 420.8,50.8 423.8,50.8 425.7,50.8 426.7,50.8 429.7,50.8 432.7,50.8 435.7,50.8 438.7,50.8 441.7,50.8 444.6,50.8 447.6,50.8 450.6,50.8 453.6,50.8 456.6,50.8 456.7,50.8 459.6,50.8 462.5,50.8 465.5,50.8 468.5,50.8 471.5,50.8 474.5,50.8 477.5,50.8 480.4,50.8 483.2,50.8 483.4,50.8 486.4,50.8 489.4,50.8 492.4,50.8 495.4,50.8 498.3,50.8 501.3,50.8 504.3,50.8 507.3,50.8 510.3,50.8 513.3,50.8 516.2,50.8 517.4,50.8 519.2,50.8 522.2,50.8 525.2,50.8 528.2,50.8 531.2,50.8 534.1,50.8 537.1,50.8 540.1,50.8 543.1,50.8 546.1,50.8 548.0,50.8 549.1,50.8 552.0,50.8 555.0,50.8 558.0,50.8 561.0,50.8 564.0,50.8 566.0,50.8 567.0,50.8 569.9,50.8 572.9,50.8 575.9,50.8 578.9,50.8 581.9,50.8 584.9,50.8 587.8,50.8 590.8,50.8 593.8,50.8 596.8,50.8 599.8,50.8 602.8,50.8 605.7,50.8 608.7,50.8 611.7,50.8 614.7,50.8 614.7,400.9 611.7,397.0 608.7,393.1 605.7,389.4 602.8,385.8 599.8,382.2 596.8,378.7 593.8,375.4 590.8,372.1 587.8,368.9 584.9,365.7 581.9,362.7 578.9,359.7 575.9,356.9 572.9,354.0 569.9,351.3 567.0,348.7 566.0,347.8 564.0,346.1 561.0,343.5 558.0,341.1 555.0,338.7 552.0,336.4 549.1,334.1 548.0,333.4 546.1,332.0 543.1,329.8 540.1,327.8 537.1,325.8 534.1,323.8 531.2,321.9 528.2,320.1 525.2,318.3 522.2,316.5 519.2,314.8 517.4,313.8 516.2,313.2 513.3,311.6 510.3,310.0 507.3,308.5 504.3,307.1 501.3,305.6 498.3,304.3 495.4,302.9 492.4,301.6 489.4,300.3 486.4,299.1 483.4,297.8 483.2,297.7 480.4,296.6 477.5,295.5 474.5,294.4 471.5,293.2 468.5,292.2 465.5,291.1 462.5,290.0 459.6,289.0 456.7,288.1 456.6,288.0 453.6,287.0 450.6,286.0 447.6,285.1 444.6,284.1 441.7,283.2 438.7,282.3 435.7,281.4 432.7,280.5 429.7,279.6 426.7,278.7 425.7,278.4 423.8,277.9 420.8,277.0 417.8,276.2 414.8,275.3 411.8,274.5 408.8,273.7 405.9,272.9 402.9,272.1 399.9,271.3 396.9,270.4 394.7,269.7 393.9,269.5 390.9,268.6 388.0,267.7 385.0,266.8 382.0,265.9 379.0,265.0 376.0,264.1 373.0,263.2 370.1,262.3 367.1,261.4 364.1,260.5 363.7,260.4 361.1,259.7 358.1,258.8 355.1,257.9 352.2,257.0 349.2,256.2 346.2,255.4 343.2,254.6 340.2,253.9 337.2,253.1 334.3,252.3 332.7,251.9 331.3,251.6 328.3,250.8 325.3,250.0 322.3,249.2 319.3,248.4 316.4,247.6 313.4,246.9 310.4,246.1 307.4,245.3 304.4,244.4 301.7,243.7 301.4,243.6 298.5,242.8 295.5,242.0 292.5,241.2 289.5,240.3 286.5,239.5 283.5,238.6 280.6,237.8 277.6,236.9 274.6,236.1 271.6,235.2 270.7,234.9 268.6,234.3 265.6,233.4 262.7,232.6 259.7,231.7 256.7,230.8 253.7,229.8 250.7,228.9 247.7,228.0 244.8,227.0 241.8,226.1 239.7,225.4 238.8,225.1 235.8,224.1 232.8,223.1 229.8,222.0 226.9,221.2 223.9,220.3 220.9,219.3 217.9,218.4 214.9,217.3 211.9,216.3 209.0,215.1 208.7,215.1 206.0,214.0 203.0,212.9 200.0,211.8 198.6,211.2 197.3,210.6 195.9,209.9 194.6,208.9 193.2,208.0 191.8,206.9 190.5,205.9 189.1,204.8 187.7,203.7 186.4,202.6 185.0,201.5 183.7,200.4 182.3,199.3 180.9,198.2 179.6,197.1 178.2,195.9 177.7,195.6 176.9,194.8 175.5,193.7 174.1,192.6 172.8,191.5 171.4,190.4 170.0,189.3 168.7,188.2 167.3,187.1 166.0,186.0 164.6,184.9 163.2,183.8 161.9,182.3 160.5,179.4 159.2,176.5 157.8,173.7 156.4,170.8 155.1,167.9 153.7,165.0 152.3,162.1 151.0,155.7 149.6,148.1 148.3,134.4 146.9,117.0" fill="#6666ff"/>
<polygon points="146.9,50.8 148.3,50.8 149.6,50.8 151.0,50.8 152.3,50.8 153.7,50.8 155.1,50.8 156.4,50.8 157.8,50.8 159.2,50.8 160.5,50.8 161.9,50.8 163.2,50.8 164.6,50.8 166.0,50.8 167.3,50.8 168.7,50.8 170.0,50.8 171.4,50.8 172.8,50.8 174.1,50.8 175.5,50.8 176.9,50.8 177.7,50.8 178.2,50.8 179.6,50.8 180.9,50.8 182.3,50.8 183.7,50.8 185.0,50.8 186.4,50.8 187.7,50.8 189.1,50.8 190.5,50.8 191.8,50.8 193.2,50.8 194.6,50.8 195.9,50.8 197.3,50.8 198.6,50.8 200.0,50.8 203.0,50.8 206.0,50.8 208.7,50.8 209.0,50.8 211.9,50.8 214.9,50.8 217.9,50.8 220.9,50.8 223.9,50.8 226.9,50.8 229.8,50.8 232.8,50.8 235.8,50.8 238.8,50.8 239.7,50.8 241.8,50.8 244.8,50.8 247.7,50.8 250.7,50.8 253.7,50.8 256.7,50.8 259.7,50.8 262.7,50.8 265.6,50.8 268.6,50.8 270.7,50.8 271.6,50.8 274.6,50.8 277.6,50.8 280.6,50.8 283.5,50.8 286.5,50.8 289.5,50.8 292.5,50.8 295.5,50.8 298.5,50.8 301.4,50.8 301.7,50.8 304.4,50.8 307.4,50.8 310.4,50.8 313.4,50.8 316.4,50.8 319.3,50.8 322.3,50.8 325.3,50.8 328.3,50.8 331.3,50.8 332.7,50.8 334.3,50.8 337.2,50.8 340.2,50.8 343.2,50.8 346.2,50.8 349.2,50.8 352.2,50.8 355.1,50.8 358.1,50.8 361.1,50.8 363.7,50.8 364.1,50.8 367.1,50.8 370.1,50.8 373.0,50.8 376.0,50.8 379.0,50.8 382.0,50.8 385.0,50.8 388.0,50.8 390.9,50.8 393.9,50.8 394.7,50.8 396.9,50.8 399.9,50.8 402.9,50.8 405.9,50.8 408.8,50.8 411.8,50.8 414.8,50.8 417.8,50.8 420.8,50.8 423.8,50.8 425.7,50.8 426.7,50.8 429.7,50.8 432.7,50.8 435.7,50.8 438.7,50.8 441.7,50.8 444.6,50.8 447.6,50.8 450.6,50.8 453.6,50.8 456.6,50.8 456.7,50.8 459.6,50.8 462.5,50.8 465.5,50.8 468.5,50.8 471.5,50.8 474.5,50.8 477.5,50.8 480.4,50.8 483.2,50.8 483.4,50.8 486.4,50.8 489.4,50.8 492.4,50.8 495.4,50.8 498.3,50.8 501.3,50.8 504.3,50.8 507.3,50.8 510.3,50.8 513.3,50.8 516.2,50.8 517.4,50.8 519.2,50.8 522.2,50.8 525.2,50.8 528.2,50.8 531.2,50.8 534.1,50.8 537.1,50.8 540.1,50.8 543.1,50.8 546.1,50.8 548.0,50.8 549.1,50.8 552.0,50.8 555.0,50.8 558.0,50.8 561.0,50.8 564.0,50.8 566.0,50.8 567.0,50.8 569.9,50.8 572.9,50.8 575.9,50.8 578.9,50.8 581.9,50.8 584.9,50.8 587.8,50.8 590.8,50.8 593.8,50.8 596.8,50.8 599.8,50.8 602.8,50.8 605.7,50.8 608.7,50.8 611.7,50.8 614.7,50.8 614.7,390.8 611.7,387.3 608.7,383.9 605.7,380.6 602.8,377.3 599.8,374.2 596.8,371.0 593.8,368.0 590.8,365.0 587.8,362.1 584.9,359.3 581.9,356.5 578.9,353.8 575.9,351.1 572.9,348.5 569.9,346.0 567.0,343.5 566.0,342.7 564.0,341.1 561.0,338.8 558.0,336.5 555.0,334.2 552.0,332.1 549.1,329.9 548.0,329.2 546.1,327.8 543.1,325.8 540.1,323.8 537.1,321.9 534.1,320.0 531.2,318.2 528.2,316.4 525.2,314.7 522.2,313.0 519.2,311.4 517.4,310.4 516.2,309.8 513.3,308.2 510.3,306.7 507.3,305.2 504.3,303.8 501.3,302.3 498.3,301.0 495.4,299.6 492.4,298.3 489.4,297.1 486.4,295.8 483.4,294.6 483.2,294.5 480.4,293.5 477.5,292.3 474.5,291.2 471.5,290.1 468.5,289.0 465.5,288.0 462.5,287.0 459.6,286.0 456.7,285.1 456.6,285.0 453.6,284.1 450.6,283.1 447.6,282.2 444.6,281.3 441.7,280.5 438.7,279.6 435.7,278.8 432.7,277.9 429.7,277.1 426.7,276.3 425.7,276.0 423.8,275.5 420.8,274.8 417.8,274.0 414.8,273.2 411.8,272.5 408.8,271.7 405.9,271.0 402.9,270.3 399.9,269.6 396.9,268.7 394.7,268.1 393.9,267.9 390.9,267.1 388.0,266.2 385.0,265.4 382.0,264.6 379.0,263.7 376.0,262.9 373.0,262.1 370.1,261.2 367.1,260.4 364.1,259.6 363.7,259.4 361.1,258.7 358.1,257.9 355.1,257.0 352.2,256.1 349.2,255.3 346.2,254.5 343.2,253.8 340.2,253.0 337.2,252.3 334.3,251.5 332.7,251.1 331.3,250.7 328.3,249.9 325.3,249.1 322.3,248.3 319.3,247.5 316.4,246.7 313.4,245.9 310.4,245.1 307.4,244.3 304.4,243.4 301.7,242.7 301.4,242.6 298.5,241.8 295.5,240.9 292.5,240.1 289.5,239.2 286.5,238.4 283.5,237.5 280.6,236.7 277.6,235.8 274.6,235.0 271.6,234.1 270.7,233.9 268.6,233.3 265.6,232.4 262.7,231.6 259.7,230.7 256.7,229.8 253.7,229.0 250.7,228.1 247.7,227.2 244.8,226.4 241.8,225.5 239.7,224.9 238.8,224.6 235.8,223.7 232.8,222.8 229.8,221.8 226.9,221.1 223.9,220.2 220.9,219.3 217.9,218.4 214.9,217.3 211.9,216.3 209.0,215.1 208.7,215.1 206.0,214.0 203.0,212.9 200.0,211.8 198.6,211.2 197.3,210.6 195.9,209.9 194.6,208.9 193.2,208.0 191.8,206.9 190.5,205.9 189.1,204.8 187.7,203.7 186.4,202.6 185.0,201.5 183.7,200.4 182.3,199.3 180.9,198.2 179.6,197.1 178.2,195.9 177.7,195.6 176.9,194.8 175.5,193.7 174.1,192.6 172.8,191.5 171.4,190.4 170.0,189.3 168.7,188.2 167.3,187.1 166.0,186.0 164.6,184.9 163.2,183.8 161.9,182.3 160.5,179.4 159.2,176.5 157.8,173.7 156.4,170.8 155.1,167.9 153.7,165.0 152.3,162.1 151.0,155.7 149.6,148.1 148.3,134.4 146.9,117.0" fill="#66b366"/>
<polygon points="146.9,50.8 148.3,50.8 149.6,50.8 151.0,50.8 152.3,50.8 153.7,50.8 155.1,50.8 156.4,50.8 157.8,50.8 159.2,50.8 160.5,50.8 161.9,50.8 163.2,50.8 164.6,50.8 166.0,50.8 167.3,50.8 168.7,50.8 170.0,50.8 171.4,50.8 172.8,50.8 174.1,50.8 175.5,50.8 176.9,50.8 177.7,50.8 178.2,50.8 179.6,50.8 180.9,50.8 182.3,50.8 183.7,50.8 185.0,50.8 186.4,50.8 187.7,50.8 189.1,50.8 190.5,50.8 191.8,50.8 193.2,50.8 194.6,50.8 195.9,50.8 197.3,50.8 198.6,50.8 200.0,50.8 203.0,50.8 206.0,50.8 208.7,50.8 209.0,50.8 211.9,50.8 214.9,50.8 217.9,50.8 220.9,50.8 223.9,50.8 226.9,50.8 229.8,50.8 232.8,50.8 235.8,50.8 238.8,50.8 239.7,50.8 241.8,50.8 244.8,50.8 247.7,50.8 250.7,50.8 253.7,50.8 256.7,50.8 259.7,50.8 262.7,50.8 265.6,50.8 268.6,50.8 270.7,50.8 271.6,50.8 274.6,50.8 277.6,50.8 280.6,50.8 283.5,50.8 286.5,50.8 289.5,50.8 292.5,50.8 295.5,50.8 298.5,50.8 301.4,50.8 301.7,50.8 304.4,50.8 307.4,50.8 310.4,50.8 313.4,50.8 316.4,50.8 319.3,50.8 322.3,50.8 325.3,50.8 328.3,50.8 331.3,50.8 332.7,50.8 334.3,50.8 337.2,50.8 340.2,50.8 343.2,50.8 346.2,50.8 349.2,50.8 352.2,50.8 355.1,50.8 358.1,50.8 361.1,50.8 363.7,50.8 364.1,50.8 367.1,50.8 370.1,50.8 373.0,50.8 376.0,50.8 379.0,50.8 382.0,50.8 385.0,50.8 388.0,50.8 390.9,50.8 393.9,50.8 394.7,50.8 396.9,50.8 399.9,50.8 402.9,50.8 405.9,50.8 408.8,50.8 411.8,50.8 414.8,50.8 417.8,50.8 420.8,50.8 423.8,50.8 425.7,50.8 426.7,50.8 429.7,50.8 432.7,50.8 435.7,50.8 438.7,50.8 441.7,50.8 444.6,50.8 447.6,50.8 450.6,50.8 453.6,50.8 456.6,50.8 456.7,50.8 459.6,50.8 462.5,50.8 465.5,50.8 468.5,50.8 471.5,50.8 474.5,50.8 477.5,50.8 480.4,50.8 483.2,50.8 483.4,50.8 486.4,50.8 489.4,50.8 492.4,50.8 495.4,50.8 498.3,50.8 501.3,50.8 504.3,50.8 507.3,50.8 510.3,50.8 513.3,50.8 516.2,50.8 517.4,50.8 519.2,50.8 522.2,50.8 525.2,50.8 528.2,50.8 531.2,50.8 534.1,50.8 537.1,50.8 540.1,50.8 543.1,50.8 546.1,50.8 548.0,50.8 549.1,50.8 552.0,50.8 555.0,50.8 558.0,50.8 561.0,50.8 564.0,50.8 566.0,50.8 567.0,50.8 569.9,50.8 572.9,50.8 575.9,50.8 578.9,50.8 581.9,50.8 584.9,50.8 587.8,50.8 590.8,50.8 593.8,50.8 596.8,50.8 599.8,50.8 602.8,50.8 605.7,50.8 608.7,50.8 611.7,50.8 614.7,50.8 614.7,363.2 611.7,359.7 608.7,356.4 605.7,353.2 602.8,350.0 599.8,347.0 596.8,344.0 593.8,341.1 590.8,338.3 587.8,335.5 584.9,332.9 581.9,330.3 578.9,327.8 575.9,325.4 572.9,323.0 569.9,320.7 567.0,318.5 566.0,317.8 564.0,316.3 561.0,314.3 558.0,312.2 555.0,310.3 552.0,308.4 549.1,306.6 548.0,305.9 546.1,304.8 543.1,303.0 540.1,301.4 537.1,299.8 534.1,298.2 531.2,296.7 528.2,295.2 525.2,293.8 522.2,292.4 519.2,291.1 517.4,290.3 516.2,289.8 513.3,288.6 510.3,287.4 507.3,286.2 504.3,285.1 501.3,284.0 498.3,282.9 495.4,281.8 492.4,280.8 489.4,279.9 486.4,278.9 483.4,278.0 483.2,277.9 480.4,277.1 477.5,276.2 474.5,275.3 471.5,274.5 468.5,273.6 465.5,272.8 462.5,272.0 459.6,271.2 456.7,270.5 456.6,270.4 453.6,269.7 450.6,268.9 447.6,268.1 444.6,267.4 441.7,266.6 438.7,265.9 435.7,265.2 432.7,264.4 429.7,263.7 426.7,263.0 425.7,262.8 423.8,262.3 420.8,261.6 417.8,260.9 414.8,260.3 411.8,259.6 408.8,258.9 405.9,258.2 402.9,257.6 399.9,256.9 396.9,256.2 394.7,255.7 393.9,255.6 390.9,254.9 388.0,254.3 385.0,253.6 382.0,253.0 379.0,252.4 376.0,251.7 373.0,251.1 370.1,250.5 367.1,249.8 364.1,249.2 363.7,249.1 361.1,248.6 358.1,248.0 355.1,247.3 352.2,246.7 349.2,246.1 346.2,245.5 343.2,244.8 340.2,244.2 337.2,243.6 334.3,243.0 332.7,242.6 331.3,242.4 328.3,241.7 325.3,241.1 322.3,240.5 319.3,239.8 316.4,239.2 313.4,238.6 310.4,237.9 307.4,237.3 304.4,236.6 301.7,236.1 301.4,236.0 298.5,235.4 295.5,234.7 292.5,234.0 289.5,233.4 286.5,232.7 283.5,232.1 280.6,231.4 277.6,230.7 274.6,230.0 271.6,229.4 270.7,229.2 268.6,228.7 265.6,228.0 262.7,227.3 259.7,226.6 256.7,225.9 253.7,225.2 250.7,224.6 247.7,223.9 244.8,223.2 241.8,222.5 239.7,222.0 238.8,221.8 235.8,221.1 232.8,220.4 229.8,219.6 226.9,218.9 223.9,218.1 220.9,217.2 217.9,216.3 214.9,215.4 211.9,214.4 209.0,213.3 208.7,213.3 206.0,212.3 203.0,211.3 200.0,210.3 198.6,209.8 197.3,209.4 195.9,208.9 194.6,208.0 193.2,207.1 191.8,206.1 190.5,205.1 189.1,204.1 187.7,203.1 186.4,202.0 185.0,201.0 183.7,199.9 182.3,198.8 180.9,197.7 179.6,196.7 178.2,195.6 177.7,195.2 176.9,194.5 175.5,193.4 174.1,192.3 172.8,191.3 171.4,190.2 170.0,189.1 168.7,188.1 167.3,187.0 166.0,185.9 164.6,184.9 163.2,183.8 161.9,182.3 160.5,179.4 159.2,176.5 157.8,173.7 156.4,170.8 155.1,167.9 153.7,165.0 152.3,162.1 151.0,155.7 149.6,148.1 148.3,134.4 146.9,117.0" fill="#857ab8"/>
</g>
<g clip-path="url(#fa)" stroke="#fff" stroke-opacity=".14" stroke-width="1.15" stroke-dasharray="4.6 2.6">
<line x1="250.1" x2="250.1" y1="24.8" y2="581.0"/>
<line x1="353.4" x2="353.4" y1="24.8" y2="581.0"/>
<line x1="456.6" x2="456.6" y1="24.8" y2="581.0"/>
<line x1="560.0" x2="560.0" y1="24.8" y2="581.0"/>
<line x1="146.8" x2="611.7" y1="117.5" y2="117.5"/>
<line x1="146.8" x2="611.7" y1="210.2" y2="210.2"/>
<line x1="146.8" x2="611.7" y1="302.9" y2="302.9"/>
<line x1="146.8" x2="611.7" y1="395.6" y2="395.6"/>
<line x1="146.8" x2="611.7" y1="488.3" y2="488.3"/>
</g>
<line x1="146.8" x2="611.7" y1="50.8" y2="50.8" stroke="#000" stroke-width="4.44"/>
<g clip-path="url(#ca)" fill="none" stroke="#000" stroke-width="4.44" stroke-dasharray="16.4 7.1">
<polyline points="146.9,123.0 148.3,134.4 149.6,148.1 151.0,155.7 152.3,162.1 153.7,165.0 155.1,167.9 156.4,170.8 157.8,173.7 159.2,176.5 160.5,179.4 161.9,182.3 163.2,183.8 164.6,184.9 166.0,186.0 167.3,187.1 168.7,188.2 170.0,189.3 171.4,190.4 172.8,191.5 174.1,192.6 175.5,193.7 176.9,194.8 177.7,195.5 178.2,195.9 179.6,197.0 180.9,198.1 182.3,199.2 183.7,200.3 185.0,201.4 186.4,202.5 187.7,203.6 189.1,204.6 190.5,205.7 191.8,206.7 193.2,207.7 194.6,208.6 195.9,209.6 197.3,210.2 198.6,210.8 200.0,211.4 203.0,212.7 206.0,214.0 208.7,215.3 209.0,215.4 211.9,216.7 214.9,218.1 217.9,219.4 220.9,220.7 223.9,221.9 226.9,223.1 227.3,223.2"/>
<polyline points="227.3,223.2 229.8,224.2 232.8,225.3 235.8,226.3 238.8,227.3 239.7,227.7 241.8,228.3 244.8,229.3 247.7,230.3 250.7,231.2 253.7,232.1 256.7,233.1 259.7,234.0 262.7,234.9 265.6,235.8 268.6,236.7 270.7,237.3 271.6,237.5 274.6,238.4 277.6,239.3 280.6,240.1 283.5,241.0 286.5,241.8 289.5,242.7 292.5,243.5 295.5,244.3 298.5,245.2 301.4,246.0 301.7,246.1 304.4,246.8 307.4,247.6 310.4,248.5 313.4,249.3 316.4,250.1 319.3,250.9 322.3,251.7 325.3,252.5 328.3,253.4 331.3,254.2 332.7,254.6 334.3,255.0 337.2,255.8 340.2,256.7 343.2,257.5 346.2,258.3 349.2,259.2 352.2,260.0 355.1,260.9 358.1,261.7 361.1,262.6 363.7,263.3 364.1,263.4 367.1,264.3 370.1,265.2 373.0,266.1 376.0,267.0 379.0,267.9 382.0,268.8 385.0,269.7 388.0,270.6 390.9,271.6 393.9,272.5 394.7,272.7 396.9,273.4 399.9,274.4 402.9,275.3 405.9,276.3 408.8,277.3 411.8,278.3 414.8,279.3 417.8,280.3 420.8,281.3 423.8,282.3 425.7,282.9 426.7,283.3 429.7,284.4 432.7,285.4 435.7,286.5 438.7,287.5 441.7,288.6 444.6,289.7 447.6,290.8 450.6,291.9 453.6,293.0 456.6,294.1 456.7,294.2 459.6,295.3 462.5,296.4 465.5,297.6 468.5,298.8 471.5,299.9 474.5,301.2 477.5,302.4 480.4,303.6 483.2,304.8 483.4,304.9 486.4,306.2 489.4,307.6 492.4,308.9 495.4,310.3 498.3,311.7 501.3,313.2 504.3,314.6 507.3,316.2 510.3,317.7 513.3,319.3 516.2,320.9 517.4,321.6 519.2,322.6 522.2,324.3 525.2,326.1 528.2,327.9 531.2,329.8 534.1,331.7 537.1,333.6 540.1,335.6 543.1,337.7 546.1,339.8 548.0,341.2 549.1,342.0 552.0,344.2 555.0,346.5 558.0,348.9 561.0,351.3 564.0,353.8 566.0,355.5 567.0,356.3 569.9,358.9 572.9,361.6 575.9,364.4 578.9,367.2 581.9,370.1 584.9,373.1 587.8,376.1 590.8,379.3 593.8,382.5 596.8,385.8 599.8,389.2 602.8,392.6 605.7,396.2 608.7,399.8 611.7,403.6 614.7,407.4" stroke-dashoffset="16.68"/>
</g>
<line x1="146.75" x2="146.75" y1="23.14" y2="582.66" class="s"/>
<line x1="145.09" x2="613.26" y1="581.00" y2="581.00" class="s"/>
<line x1="135.25" x2="146.75" y1="24.80" y2="24.80" class="s"/>
<text x="126.5" y="35.7" font-size="27.78" fill="#000" text-anchor="end" class="t">1.25</text>
<line x1="135.25" x2="146.75" y1="117.50" y2="117.50" class="s"/>
<text x="126.5" y="128.4" font-size="27.78" fill="#000" text-anchor="end" class="t">1.00</text>
<line x1="135.25" x2="146.75" y1="210.20" y2="210.20" class="s"/>
<text x="126.5" y="221.1" font-size="27.78" fill="#000" text-anchor="end" class="t">0.75</text>
<line x1="135.25" x2="146.75" y1="302.90" y2="302.90" class="s"/>
<text x="126.5" y="313.8" font-size="27.78" fill="#000" text-anchor="end" class="t">0.50</text>
<line x1="135.25" x2="146.75" y1="395.60" y2="395.60" class="s"/>
<text x="126.5" y="406.5" font-size="27.78" fill="#000" text-anchor="end" class="t">0.25</text>
<line x1="135.25" x2="146.75" y1="488.30" y2="488.30" class="s"/>
<text x="126.5" y="499.2" font-size="27.78" fill="#000" text-anchor="end" class="t">0.00</text>
<line x1="135.25" x2="146.75" y1="581.00" y2="581.00" class="s"/>
<text x="126.5" y="591.9" font-size="27.78" fill="#000" text-anchor="end" class="t"><tspan fill="#2b2b2b" stroke="#fff" stroke-width=".5">−</tspan>0.25</text>
<line x1="146.75" x2="146.75" y1="581.00" y2="592.50" class="s"/>
<text x="144.6" y="621.4" font-size="27.78" fill="#000" text-anchor="middle" class="t">0.0</text>
<line x1="250.05" x2="250.05" y1="581.00" y2="592.50" class="s"/>
<text x="247.9" y="621.4" font-size="27.78" fill="#000" text-anchor="middle" class="t">0.5</text>
<line x1="353.35" x2="353.35" y1="581.00" y2="592.50" class="s"/>
<text x="351.2" y="621.4" font-size="27.78" fill="#000" text-anchor="middle" class="t">1.0</text>
<line x1="456.65" x2="456.65" y1="581.00" y2="592.50" class="s"/>
<text x="454.4" y="621.4" font-size="27.78" fill="#000" text-anchor="middle" class="t">1.5</text>
<line x1="559.95" x2="559.95" y1="581.00" y2="592.50" class="s"/>
<text x="557.8" y="621.4" font-size="27.78" fill="#000" text-anchor="middle" class="t">2.0</text>
</g>
<text font-size="46.2"><tspan x="369.7" y="34.9" textLength="22" lengthAdjust="spacingAndGlyphs" stroke="#fff" stroke-width=".6">(</tspan><tspan x="390.6" y="32.5" font-size="43.6">a</tspan><tspan x="416.1" y="34.9" textLength="22" lengthAdjust="spacingAndGlyphs" stroke="#fff" stroke-width=".6">)</tspan></text>
<text transform="translate(26.6,303.7) rotate(-90)" font-size="33.33" text-anchor="middle" letter-spacing=".31">Cell Potential (V)</text>
<text x="245.8" y="662.3" font-size="33.33">Current (A/cm<tspan font-size="23.33" dy="-11.5">2</tspan><tspan dy="12.6" dx="2.5">)</tspan></text>
<text id="a0" x="662.6" y="59.0" font-size="30.56" fill="#000000" text-anchor="start"  textLength="66.18" lengthAdjust="spacing">OCV</text>
<polyline points="659.0,50.5 630.5,50.5" fill="none" stroke="#000000" stroke-width="3.45" stroke-linecap="round" stroke-linejoin="miter"/>
<polygon points="619.8,50.5 632.5,45.3 632.5,55.7" fill="#000000" stroke="#000000" stroke-width="2" stroke-linejoin="round"/>
<text id="a1" x="662.6" y="168.5" font-size="30.56" fill="#332288" text-anchor="start"  textLength="253.78" lengthAdjust="spacing">Cathode kinetics</text>
<polyline points="657.8,160.0 630.5,161.4" fill="none" stroke="#332288" stroke-width="3.45" stroke-linecap="round" stroke-linejoin="miter"/>
<polygon points="619.8,162.0 632.2,156.2 632.8,166.5" fill="#332288" stroke="#332288" stroke-width="2" stroke-linejoin="round"/>
<text id="a2" x="662.6" y="281.6" font-size="30.56" fill="#008000" text-anchor="start"  textLength="225.34" lengthAdjust="spacing">Anode kinetics</text>
<polyline points="658.0,273.1 637.6,273.1 616.5,355.6" fill="none" stroke="#008000" stroke-width="3.45" stroke-linecap="round" stroke-linejoin="miter"/>
<polygon points="613.9,365.9 612.0,352.4 622.1,354.9" fill="#008000" stroke="#008000" stroke-width="2" stroke-linejoin="round"/>
<text id="a3" x="662.6" y="325.8" font-size="30.56" fill="#0000ff" text-anchor="start"  textLength="263.63" lengthAdjust="spacing">Membrane ohmic</text>
<polyline points="658.0,317.3 646.4,317.3 619.3,375.3" fill="none" stroke="#0000ff" stroke-width="3.45" stroke-linecap="round" stroke-linejoin="miter"/>
<polygon points="614.8,385.0 615.4,371.2 624.9,375.6" fill="#0000ff" stroke="#0000ff" stroke-width="2" stroke-linejoin="round"/>
<text id="a4" x="662.6" y="369.3" font-size="30.56" fill="#bf00bf" text-anchor="start"  textLength="199.64" lengthAdjust="spacing">Anode ohmic</text>
<polyline points="658.0,360.8 643.7,360.8 622.5,390.4" fill="none" stroke="#bf00bf" stroke-width="3.45" stroke-linecap="round" stroke-linejoin="miter"/>
<polygon points="616.2,399.1 619.4,385.7 627.9,391.8" fill="#bf00bf" stroke="#bf00bf" stroke-width="2" stroke-linejoin="round"/>
<text id="a5" x="662.6" y="410.1" font-size="30.56" fill="#000000" text-anchor="start"  textLength="270.64" lengthAdjust="spacing">Polarization curve</text>
<polyline points="658.6,401.6 628.9,401.6" fill="none" stroke="#000000" stroke-width="3.45" stroke-linecap="round" stroke-linejoin="miter"/>
<polygon points="618.2,401.6 630.9,396.4 630.9,406.8" fill="#000000" stroke="#000000" stroke-width="2" stroke-linejoin="round"/>
<text id="a6" x="662.6" y="455.5" font-size="30.56" fill="#ff0000" text-anchor="start"  textLength="228.96" lengthAdjust="spacing">Cathode ohmic</text>
<polyline points="658.0,447.0 637.3,447.0 625.7,437.9" fill="none" stroke="#ff0000" stroke-width="3.45" stroke-linecap="round" stroke-linejoin="miter"/>
<polygon points="617.3,431.3 630.5,435.0 624.0,443.2" fill="#ff0000" stroke="#ff0000" stroke-width="2" stroke-linejoin="round"/>
<text id="a7" x="662.6" y="497.0" font-size="30.56" fill="#ffa500" text-anchor="start"  textLength="311.19" lengthAdjust="spacing">Anode bulk diffusion</text>
<polyline points="658.0,488.5 643.3,488.5 620.8,450.7" fill="none" stroke="#ffa500" stroke-width="3.45" stroke-linecap="round" stroke-linejoin="miter"/>
<polygon points="615.3,441.5 626.3,449.7 617.3,455.0" fill="#ffa500" stroke="#ffa500" stroke-width="2" stroke-linejoin="round"/>
<text id="a8" x="662.6" y="539.9" font-size="30.56" fill="#35978f" text-anchor="start"  textLength="339.20" lengthAdjust="spacing">Cathode bulk diffusion</text>
<polyline points="658.0,531.4 643.3,531.4 620.8,493.3" fill="none" stroke="#35978f" stroke-width="3.45" stroke-linecap="round" stroke-linejoin="miter"/>
<polygon points="615.3,484.1 626.3,492.4 617.3,497.7" fill="#35978f" stroke="#35978f" stroke-width="2" stroke-linejoin="round"/>
<text id="a9" x="662.6" y="582.1" font-size="30.56" fill="#bf812d" text-anchor="start"  textLength="336.16" lengthAdjust="spacing">Agglomerate diffusion</text>
<polyline points="658.0,573.6 640.3,573.6 624.9,558.8" fill="none" stroke="#bf812d" stroke-width="3.45" stroke-linecap="round" stroke-linejoin="miter"/>
<polygon points="617.2,551.4 629.9,556.4 622.7,564.0" fill="#bf812d" stroke="#bf812d" stroke-width="2" stroke-linejoin="round"/>
<g id="panel-b">
<line x1="146.9" x2="146.9" y1="753.6" y2="1309.8" class="g"/>
<line x1="271.0" x2="271.0" y1="753.6" y2="1309.8" class="g"/>
<line x1="395.1" x2="395.1" y1="753.6" y2="1309.8" class="g"/>
<line x1="519.2" x2="519.2" y1="753.6" y2="1309.8" class="g"/>
<line x1="146.9" x2="593.7" y1="753.6" y2="753.6" class="g"/>
<line x1="146.9" x2="593.7" y1="846.3" y2="846.3" class="g"/>
<line x1="146.9" x2="593.7" y1="939.0" y2="939.0" class="g"/>
<line x1="146.9" x2="593.7" y1="1031.7" y2="1031.7" class="g"/>
<line x1="146.9" x2="593.7" y1="1124.4" y2="1124.4" class="g"/>
<line x1="146.9" x2="593.7" y1="1217.1" y2="1217.1" class="g"/>
<line x1="146.9" x2="593.7" y1="1309.8" y2="1309.8" class="g"/>
<clipPath id="cb"><rect x="146.9" y="700" width="446.8" height="700"/></clipPath>
<clipPath id="fb"><polygon points="147.1,779.6 148.5,779.6 149.8,779.6 151.2,779.6 152.5,779.6 153.9,779.6 155.2,779.6 156.6,779.6 158.0,779.6 159.3,779.6 160.7,779.6 162.0,779.6 163.4,779.6 164.7,779.6 166.1,779.6 167.4,779.6 168.8,779.6 170.2,779.6 171.5,779.6 172.9,779.6 174.2,779.6 175.6,779.6 176.9,779.6 178.3,779.6 179.7,779.6 181.0,779.6 182.4,779.6 183.7,779.6 185.1,779.6 186.4,779.6 187.8,779.6 189.1,779.6 190.5,779.6 191.9,779.6 193.2,779.6 194.6,779.6 195.9,779.6 197.3,779.6 198.6,779.6 200.0,779.6 202.9,779.6 205.7,779.6 208.6,779.6 211.4,779.6 214.3,779.6 217.1,779.6 220.0,779.6 222.8,779.6 225.7,779.6 228.5,779.6 231.4,779.6 234.2,779.6 237.1,779.6 240.0,779.6 242.8,779.6 245.7,779.6 248.5,779.6 251.4,779.6 254.2,779.6 257.1,779.6 259.9,779.6 262.8,779.6 265.6,779.6 268.5,779.6 271.3,779.6 274.2,779.6 277.1,779.6 279.9,779.6 282.8,779.6 285.6,779.6 288.5,779.6 291.3,779.6 294.2,779.6 297.0,779.6 299.9,779.6 302.7,779.6 305.6,779.6 308.5,779.6 311.3,779.6 314.2,779.6 317.0,779.6 319.9,779.6 322.7,779.6 325.6,779.6 328.4,779.6 331.3,779.6 334.1,779.6 337.0,779.6 339.8,779.6 342.7,779.6 345.6,779.6 348.4,779.6 351.3,779.6 354.1,779.6 357.0,779.6 359.8,779.6 362.7,779.6 365.5,779.6 368.4,779.6 371.2,779.6 374.1,779.6 376.9,779.6 379.8,779.6 382.7,779.6 385.5,779.6 388.4,779.6 391.2,779.6 394.1,779.6 396.9,779.6 399.8,779.6 402.6,779.6 405.5,779.6 408.3,779.6 411.2,779.6 414.0,779.6 416.9,779.6 419.8,779.6 422.6,779.6 425.5,779.6 428.3,779.6 431.2,779.6 434.0,779.6 436.9,779.6 439.7,779.6 442.6,779.6 445.4,779.6 448.3,779.6 451.1,779.6 454.0,779.6 456.9,779.6 459.7,779.6 462.6,779.6 465.4,779.6 468.3,779.6 471.1,779.6 474.0,779.6 476.8,779.6 479.7,779.6 482.5,779.6 485.4,779.6 488.2,779.6 491.1,779.6 494.0,779.6 496.8,779.6 499.7,779.6 502.5,779.6 505.4,779.6 508.2,779.6 511.1,779.6 513.9,779.6 516.8,779.6 519.6,779.6 522.5,779.6 525.4,779.6 528.2,779.6 531.1,779.6 533.9,779.6 536.8,779.6 539.6,779.6 542.5,779.6 545.3,779.6 548.2,779.6 551.0,779.6 553.9,779.6 556.7,779.6 559.6,779.6 562.5,779.6 565.3,779.6 568.2,779.6 571.0,779.6 573.9,779.6 576.7,779.6 579.6,779.6 582.4,779.6 585.3,779.6 588.1,779.6 591.0,779.6 593.8,779.6 596.7,779.6 596.7,1201.6 593.8,1200.3 591.0,1199.0 588.1,1197.7 585.3,1196.3 582.4,1195.0 579.6,1193.6 576.7,1192.3 573.9,1191.0 571.0,1189.6 568.2,1188.3 565.3,1186.9 562.5,1185.6 559.6,1184.2 556.7,1182.9 553.9,1181.5 551.0,1180.2 548.2,1178.8 545.3,1177.5 542.5,1176.1 539.6,1174.8 536.8,1173.4 533.9,1172.0 531.1,1170.7 528.2,1169.3 525.4,1168.0 522.5,1166.6 519.6,1165.2 516.8,1163.9 513.9,1162.5 511.1,1161.1 508.2,1159.8 505.4,1158.4 502.5,1157.0 499.7,1155.7 496.8,1154.3 494.0,1152.9 491.1,1151.5 488.2,1150.1 485.4,1148.7 482.5,1147.3 479.7,1145.9 476.8,1144.5 474.0,1143.1 471.1,1141.6 468.3,1140.2 465.4,1138.7 462.6,1137.2 459.7,1135.7 456.9,1134.2 454.0,1132.7 451.1,1131.1 448.3,1129.5 445.4,1127.9 442.6,1126.2 439.7,1124.6 436.9,1123.0 434.0,1121.4 431.2,1119.8 428.3,1118.3 425.5,1116.8 422.6,1115.2 419.8,1113.7 416.9,1112.2 414.0,1110.7 411.2,1109.2 408.3,1107.7 405.5,1106.1 402.6,1104.6 399.8,1103.0 396.9,1101.5 394.1,1099.9 391.2,1098.3 388.4,1096.7 385.5,1095.1 382.7,1093.5 379.8,1091.8 376.9,1090.2 374.1,1088.5 371.2,1086.9 368.4,1085.2 365.5,1083.5 362.7,1081.8 359.8,1080.1 357.0,1078.4 354.1,1076.6 351.3,1074.9 348.4,1073.1 345.6,1071.3 342.7,1069.5 339.8,1067.7 337.0,1065.9 334.1,1064.1 331.3,1062.3 328.4,1060.5 325.6,1058.7 322.7,1056.8 319.9,1055.0 317.0,1053.1 314.2,1051.2 311.3,1049.3 308.5,1047.4 305.6,1045.5 302.7,1043.5 299.9,1041.5 297.0,1039.6 294.2,1037.5 291.3,1035.5 288.5,1033.4 285.6,1031.4 282.8,1029.3 279.9,1027.1 277.1,1025.0 274.2,1022.8 271.3,1020.6 268.5,1018.4 265.6,1016.1 262.8,1013.8 259.9,1011.5 257.1,1009.2 254.2,1006.8 251.4,1004.4 248.5,1002.0 245.7,999.6 242.8,997.1 240.0,994.7 237.1,992.3 234.2,989.8 231.4,987.2 228.5,984.6 225.7,982.0 222.8,979.4 220.0,976.7 217.1,974.1 214.3,971.5 211.4,968.2 208.6,964.9 205.7,961.6 202.9,958.3 200.0,955.0 198.6,952.8 197.3,950.7 195.9,948.5 194.6,946.3 193.2,944.2 191.9,942.0 190.5,939.9 189.1,937.7 187.8,935.5 186.4,933.4 185.1,931.2 183.7,929.0 182.4,926.8 181.0,924.5 179.7,922.2 178.3,919.9 176.9,917.6 175.6,915.2 174.2,912.9 172.9,910.6 171.5,908.3 170.2,906.0 168.8,903.6 167.4,901.0 166.1,898.2 164.7,895.5 163.4,892.8 162.0,890.0 160.7,887.3 159.3,884.5 158.0,881.8 156.6,878.2 155.2,873.4 153.9,868.6 152.5,863.8 151.2,859.0 149.8,849.5 148.5,837.6 147.1,814.0"/></clipPath>
<g clip-path="url(#cb)">
<polygon points="147.1,779.6 148.5,779.6 149.8,779.6 151.2,779.6 152.5,779.6 153.9,779.6 155.2,779.6 156.6,779.6 158.0,779.6 159.3,779.6 160.7,779.6 162.0,779.6 163.4,779.6 164.7,779.6 166.1,779.6 167.4,779.6 168.8,779.6 170.2,779.6 171.5,779.6 172.9,779.6 174.2,779.6 175.6,779.6 176.9,779.6 178.3,779.6 179.7,779.6 181.0,779.6 182.4,779.6 183.7,779.6 185.1,779.6 186.4,779.6 187.8,779.6 189.1,779.6 190.5,779.6 191.9,779.6 193.2,779.6 194.6,779.6 195.9,779.6 197.3,779.6 198.6,779.6 200.0,779.6 202.9,779.6 205.7,779.6 208.6,779.6 211.4,779.6 214.3,779.6 217.1,779.6 220.0,779.6 222.8,779.6 225.7,779.6 228.5,779.6 231.4,779.6 234.2,779.6 237.1,779.6 240.0,779.6 242.8,779.6 245.7,779.6 248.5,779.6 251.4,779.6 254.2,779.6 257.1,779.6 259.9,779.6 262.8,779.6 265.6,779.6 268.5,779.6 271.3,779.6 274.2,779.6 277.1,779.6 279.9,779.6 282.8,779.6 285.6,779.6 288.5,779.6 291.3,779.6 294.2,779.6 297.0,779.6 299.9,779.6 302.7,779.6 305.6,779.6 308.5,779.6 311.3,779.6 314.2,779.6 317.0,779.6 319.9,779.6 322.7,779.6 325.6,779.6 328.4,779.6 331.3,779.6 334.1,779.6 337.0,779.6 339.8,779.6 342.7,779.6 345.6,779.6 348.4,779.6 351.3,779.6 354.1,779.6 357.0,779.6 359.8,779.6 362.7,779.6 365.5,779.6 368.4,779.6 371.2,779.6 374.1,779.6 376.9,779.6 379.8,779.6 382.7,779.6 385.5,779.6 388.4,779.6 391.2,779.6 394.1,779.6 396.9,779.6 399.8,779.6 402.6,779.6 405.5,779.6 408.3,779.6 411.2,779.6 414.0,779.6 416.9,779.6 419.8,779.6 422.6,779.6 425.5,779.6 428.3,779.6 431.2,779.6 434.0,779.6 436.9,779.6 439.7,779.6 442.6,779.6 445.4,779.6 448.3,779.6 451.1,779.6 454.0,779.6 456.9,779.6 459.7,779.6 462.6,779.6 465.4,779.6 468.3,779.6 471.1,779.6 474.0,779.6 476.8,779.6 479.7,779.6 482.5,779.6 485.4,779.6 488.2,779.6 491.1,779.6 494.0,779.6 496.8,779.6 499.7,779.6 502.5,779.6 505.4,779.6 508.2,779.6 511.1,779.6 513.9,779.6 516.8,779.6 519.6,779.6 522.5,779.6 525.4,779.6 528.2,779.6 531.1,779.6 533.9,779.6 536.8,779.6 539.6,779.6 542.5,779.6 545.3,779.6 548.2,779.6 551.0,779.6 553.9,779.6 556.7,779.6 559.6,779.6 562.5,779.6 565.3,779.6 568.2,779.6 571.0,779.6 573.9,779.6 576.7,779.6 579.6,779.6 582.4,779.6 585.3,779.6 588.1,779.6 591.0,779.6 593.8,779.6 596.7,779.6 596.7,1201.6 593.8,1200.3 591.0,1199.0 588.1,1197.7 585.3,1196.3 582.4,1195.0 579.6,1193.6 576.7,1192.3 573.9,1191.0 571.0,1189.6 568.2,1188.3 565.3,1186.9 562.5,1185.6 559.6,1184.2 556.7,1182.9 553.9,1181.5 551.0,1180.2 548.2,1178.8 545.3,1177.5 542.5,1176.1 539.6,1174.8 536.8,1173.4 533.9,1172.0 531.1,1170.7 528.2,1169.3 525.4,1168.0 522.5,1166.6 519.6,1165.2 516.8,1163.9 513.9,1162.5 511.1,1161.1 508.2,1159.8 505.4,1158.4 502.5,1157.0 499.7,1155.7 496.8,1154.3 494.0,1152.9 491.1,1151.5 488.2,1150.1 485.4,1148.7 482.5,1147.3 479.7,1145.9 476.8,1144.5 474.0,1143.1 471.1,1141.6 468.3,1140.2 465.4,1138.7 462.6,1137.2 459.7,1135.7 456.9,1134.2 454.0,1132.7 451.1,1131.1 448.3,1129.5 445.4,1127.9 442.6,1126.2 439.7,1124.6 436.9,1123.0 434.0,1121.4 431.2,1119.8 428.3,1118.3 425.5,1116.8 422.6,1115.2 419.8,1113.7 416.9,1112.2 414.0,1110.7 411.2,1109.2 408.3,1107.7 405.5,1106.1 402.6,1104.6 399.8,1103.0 396.9,1101.5 394.1,1099.9 391.2,1098.3 388.4,1096.7 385.5,1095.1 382.7,1093.5 379.8,1091.8 376.9,1090.2 374.1,1088.5 371.2,1086.9 368.4,1085.2 365.5,1083.5 362.7,1081.8 359.8,1080.1 357.0,1078.4 354.1,1076.6 351.3,1074.9 348.4,1073.1 345.6,1071.3 342.7,1069.5 339.8,1067.7 337.0,1065.9 334.1,1064.1 331.3,1062.3 328.4,1060.5 325.6,1058.7 322.7,1056.8 319.9,1055.0 317.0,1053.1 314.2,1051.2 311.3,1049.3 308.5,1047.4 305.6,1045.5 302.7,1043.5 299.9,1041.5 297.0,1039.6 294.2,1037.5 291.3,1035.5 288.5,1033.4 285.6,1031.4 282.8,1029.3 279.9,1027.1 277.1,1025.0 274.2,1022.8 271.3,1020.6 268.5,1018.4 265.6,1016.1 262.8,1013.8 259.9,1011.5 257.1,1009.2 254.2,1006.8 251.4,1004.4 248.5,1002.0 245.7,999.6 242.8,997.1 240.0,994.7 237.1,992.3 234.2,989.8 231.4,987.2 228.5,984.6 225.7,982.0 222.8,979.4 220.0,976.7 217.1,974.1 214.3,971.5 211.4,968.2 208.6,964.9 205.7,961.6 202.9,958.3 200.0,955.0 198.6,952.8 197.3,950.7 195.9,948.5 194.6,946.3 193.2,944.2 191.9,942.0 190.5,939.9 189.1,937.7 187.8,935.5 186.4,933.4 185.1,931.2 183.7,929.0 182.4,926.8 181.0,924.5 179.7,922.2 178.3,919.9 176.9,917.6 175.6,915.2 174.2,912.9 172.9,910.6 171.5,908.3 170.2,906.0 168.8,903.6 167.4,901.0 166.1,898.2 164.7,895.5 163.4,892.8 162.0,890.0 160.7,887.3 159.3,884.5 158.0,881.8 156.6,878.2 155.2,873.4 153.9,868.6 152.5,863.8 151.2,859.0 149.8,849.5 148.5,837.6 147.1,814.0" fill="#ff9f1a"/>
<polygon points="147.1,779.6 148.5,779.6 149.8,779.6 151.2,779.6 152.5,779.6 153.9,779.6 155.2,779.6 156.6,779.6 158.0,779.6 159.3,779.6 160.7,779.6 162.0,779.6 163.4,779.6 164.7,779.6 166.1,779.6 167.4,779.6 168.8,779.6 170.2,779.6 171.5,779.6 172.9,779.6 174.2,779.6 175.6,779.6 176.9,779.6 178.3,779.6 179.7,779.6 181.0,779.6 182.4,779.6 183.7,779.6 185.1,779.6 186.4,779.6 187.8,779.6 189.1,779.6 190.5,779.6 191.9,779.6 193.2,779.6 194.6,779.6 195.9,779.6 197.3,779.6 198.6,779.6 200.0,779.6 202.9,779.6 205.7,779.6 208.6,779.6 211.4,779.6 214.3,779.6 217.1,779.6 220.0,779.6 222.8,779.6 225.7,779.6 228.5,779.6 231.4,779.6 234.2,779.6 237.1,779.6 240.0,779.6 242.8,779.6 245.7,779.6 248.5,779.6 251.4,779.6 254.2,779.6 257.1,779.6 259.9,779.6 262.8,779.6 265.6,779.6 268.5,779.6 271.3,779.6 274.2,779.6 277.1,779.6 279.9,779.6 282.8,779.6 285.6,779.6 288.5,779.6 291.3,779.6 294.2,779.6 297.0,779.6 299.9,779.6 302.7,779.6 305.6,779.6 308.5,779.6 311.3,779.6 314.2,779.6 317.0,779.6 319.9,779.6 322.7,779.6 325.6,779.6 328.4,779.6 331.3,779.6 334.1,779.6 337.0,779.6 339.8,779.6 342.7,779.6 345.6,779.6 348.4,779.6 351.3,779.6 354.1,779.6 357.0,779.6 359.8,779.6 362.7,779.6 365.5,779.6 368.4,779.6 371.2,779.6 374.1,779.6 376.9,779.6 379.8,779.6 382.7,779.6 385.5,779.6 388.4,779.6 391.2,779.6 394.1,779.6 396.9,779.6 399.8,779.6 402.6,779.6 405.5,779.6 408.3,779.6 411.2,779.6 414.0,779.6 416.9,779.6 419.8,779.6 422.6,779.6 425.5,779.6 428.3,779.6 431.2,779.6 434.0,779.6 436.9,779.6 439.7,779.6 442.6,779.6 445.4,779.6 448.3,779.6 451.1,779.6 454.0,779.6 456.9,779.6 459.7,779.6 462.6,779.6 465.4,779.6 468.3,779.6 471.1,779.6 474.0,779.6 476.8,779.6 479.7,779.6 482.5,779.6 485.4,779.6 488.2,779.6 491.1,779.6 494.0,779.6 496.8,779.6 499.7,779.6 502.5,779.6 505.4,779.6 508.2,779.6 511.1,779.6 513.9,779.6 516.8,779.6 519.6,779.6 522.5,779.6 525.4,779.6 528.2,779.6 531.1,779.6 533.9,779.6 536.8,779.6 539.6,779.6 542.5,779.6 545.3,779.6 548.2,779.6 551.0,779.6 553.9,779.6 556.7,779.6 559.6,779.6 562.5,779.6 565.3,779.6 568.2,779.6 571.0,779.6 573.9,779.6 576.7,779.6 579.6,779.6 582.4,779.6 585.3,779.6 588.1,779.6 591.0,779.6 593.8,779.6 596.7,779.6 596.7,1193.0 593.8,1191.7 591.0,1190.4 588.1,1189.1 585.3,1187.8 582.4,1186.5 579.6,1185.2 576.7,1183.9 573.9,1182.6 571.0,1181.3 568.2,1180.0 565.3,1178.7 562.5,1177.4 559.6,1176.1 556.7,1174.8 553.9,1173.5 551.0,1172.2 548.2,1170.9 545.3,1169.6 542.5,1168.2 539.6,1166.9 536.8,1165.6 533.9,1164.3 531.1,1163.0 528.2,1161.7 525.4,1160.4 522.5,1159.1 519.6,1157.8 516.8,1156.5 513.9,1155.2 511.1,1153.9 508.2,1152.7 505.4,1151.4 502.5,1150.1 499.7,1148.8 496.8,1147.5 494.0,1146.2 491.1,1144.9 488.2,1143.6 485.4,1142.2 482.5,1140.9 479.7,1139.6 476.8,1138.3 474.0,1136.9 471.1,1135.6 468.3,1134.3 465.4,1132.9 462.6,1131.5 459.7,1130.2 456.9,1128.8 454.0,1127.4 451.1,1126.0 448.3,1124.5 445.4,1123.1 442.6,1121.7 439.7,1120.2 436.9,1118.8 434.0,1117.4 431.2,1115.9 428.3,1114.5 425.5,1113.0 422.6,1111.6 419.8,1110.1 416.9,1108.7 414.0,1107.2 411.2,1105.7 408.3,1104.2 405.5,1102.8 402.6,1101.3 399.8,1099.8 396.9,1098.3 394.1,1096.7 391.2,1095.2 388.4,1093.7 385.5,1092.1 382.7,1090.6 379.8,1089.0 376.9,1087.4 374.1,1085.9 371.2,1084.3 368.4,1082.7 365.5,1081.1 362.7,1079.5 359.8,1077.8 357.0,1076.2 354.1,1074.6 351.3,1072.9 348.4,1071.2 345.6,1069.5 342.7,1067.8 339.8,1066.1 337.0,1064.4 334.1,1062.7 331.3,1060.9 328.4,1059.2 325.6,1057.4 322.7,1055.6 319.9,1053.8 317.0,1051.9 314.2,1050.1 311.3,1048.2 308.5,1046.3 305.6,1044.4 302.7,1042.5 299.9,1040.5 297.0,1038.6 294.2,1036.6 291.3,1034.6 288.5,1032.5 285.6,1030.5 282.8,1028.4 279.9,1026.3 277.1,1024.1 274.2,1022.0 271.3,1019.8 268.5,1017.6 265.6,1015.3 262.8,1013.1 259.9,1010.7 257.1,1008.4 254.2,1006.1 251.4,1003.7 248.5,1001.3 245.7,998.9 242.8,996.5 240.0,994.0 237.1,991.6 234.2,989.2 231.4,986.6 228.5,984.0 225.7,981.4 222.8,978.8 220.0,976.2 217.1,973.6 214.3,971.0 211.4,967.8 208.6,964.5 205.7,961.2 202.9,957.9 200.0,954.6 198.6,952.4 197.3,950.3 195.9,948.1 194.6,946.0 193.2,943.8 191.9,941.7 190.5,939.5 189.1,937.4 187.8,935.2 186.4,933.1 185.1,930.9 183.7,928.8 182.4,926.6 181.0,924.2 179.7,921.9 178.3,919.6 176.9,917.3 175.6,915.0 174.2,912.7 172.9,910.4 171.5,908.1 170.2,905.8 168.8,903.5 167.4,900.8 166.1,898.1 164.7,895.4 163.4,892.6 162.0,889.9 160.7,887.2 159.3,884.4 158.0,881.7 156.6,878.1 155.2,873.3 153.9,868.5 152.5,863.7 151.2,859.0 149.8,849.5 148.5,837.5 147.1,814.0" fill="#86837f"/>
<polygon points="147.1,779.6 148.5,779.6 149.8,779.6 151.2,779.6 152.5,779.6 153.9,779.6 155.2,779.6 156.6,779.6 158.0,779.6 159.3,779.6 160.7,779.6 162.0,779.6 163.4,779.6 164.7,779.6 166.1,779.6 167.4,779.6 168.8,779.6 170.2,779.6 171.5,779.6 172.9,779.6 174.2,779.6 175.6,779.6 176.9,779.6 178.3,779.6 179.7,779.6 181.0,779.6 182.4,779.6 183.7,779.6 185.1,779.6 186.4,779.6 187.8,779.6 189.1,779.6 190.5,779.6 191.9,779.6 193.2,779.6 194.6,779.6 195.9,779.6 197.3,779.6 198.6,779.6 200.0,779.6 202.9,779.6 205.7,779.6 208.6,779.6 211.4,779.6 214.3,779.6 217.1,779.6 220.0,779.6 222.8,779.6 225.7,779.6 228.5,779.6 231.4,779.6 234.2,779.6 237.1,779.6 240.0,779.6 242.8,779.6 245.7,779.6 248.5,779.6 251.4,779.6 254.2,779.6 257.1,779.6 259.9,779.6 262.8,779.6 265.6,779.6 268.5,779.6 271.3,779.6 274.2,779.6 277.1,779.6 279.9,779.6 282.8,779.6 285.6,779.6 288.5,779.6 291.3,779.6 294.2,779.6 297.0,779.6 299.9,779.6 302.7,779.6 305.6,779.6 308.5,779.6 311.3,779.6 314.2,779.6 317.0,779.6 319.9,779.6 322.7,779.6 325.6,779.6 328.4,779.6 331.3,779.6 334.1,779.6 337.0,779.6 339.8,779.6 342.7,779.6 345.6,779.6 348.4,779.6 351.3,779.6 354.1,779.6 357.0,779.6 359.8,779.6 362.7,779.6 365.5,779.6 368.4,779.6 371.2,779.6 374.1,779.6 376.9,779.6 379.8,779.6 382.7,779.6 385.5,779.6 388.4,779.6 391.2,779.6 394.1,779.6 396.9,779.6 399.8,779.6 402.6,779.6 405.5,779.6 408.3,779.6 411.2,779.6 414.0,779.6 416.9,779.6 419.8,779.6 422.6,779.6 425.5,779.6 428.3,779.6 431.2,779.6 434.0,779.6 436.9,779.6 439.7,779.6 442.6,779.6 445.4,779.6 448.3,779.6 451.1,779.6 454.0,779.6 456.9,779.6 459.7,779.6 462.6,779.6 465.4,779.6 468.3,779.6 471.1,779.6 474.0,779.6 476.8,779.6 479.7,779.6 482.5,779.6 485.4,779.6 488.2,779.6 491.1,779.6 494.0,779.6 496.8,779.6 499.7,779.6 502.5,779.6 505.4,779.6 508.2,779.6 511.1,779.6 513.9,779.6 516.8,779.6 519.6,779.6 522.5,779.6 525.4,779.6 528.2,779.6 531.1,779.6 533.9,779.6 536.8,779.6 539.6,779.6 542.5,779.6 545.3,779.6 548.2,779.6 551.0,779.6 553.9,779.6 556.7,779.6 559.6,779.6 562.5,779.6 565.3,779.6 568.2,779.6 571.0,779.6 573.9,779.6 576.7,779.6 579.6,779.6 582.4,779.6 585.3,779.6 588.1,779.6 591.0,779.6 593.8,779.6 596.7,779.6 596.7,1184.9 593.8,1183.7 591.0,1182.5 588.1,1181.3 585.3,1180.2 582.4,1179.0 579.6,1177.8 576.7,1176.6 573.9,1175.4 571.0,1174.2 568.2,1173.1 565.3,1171.9 562.5,1170.7 559.6,1169.5 556.7,1168.3 553.9,1167.2 551.0,1166.0 548.2,1164.8 545.3,1163.6 542.5,1162.4 539.6,1161.2 536.8,1160.0 533.9,1158.8 531.1,1157.6 528.2,1156.4 525.4,1155.2 522.5,1154.0 519.6,1152.8 516.8,1151.6 513.9,1150.4 511.1,1149.2 508.2,1148.0 505.4,1146.7 502.5,1145.5 499.7,1144.3 496.8,1143.0 494.0,1141.8 491.1,1140.5 488.2,1139.3 485.4,1138.0 482.5,1136.8 479.7,1135.5 476.8,1134.3 474.0,1133.0 471.1,1131.7 468.3,1130.4 465.4,1129.1 462.6,1127.9 459.7,1126.6 456.9,1125.3 454.0,1124.0 451.1,1122.7 448.3,1121.3 445.4,1120.0 442.6,1118.7 439.7,1117.4 436.9,1116.0 434.0,1114.7 431.2,1113.3 428.3,1112.0 425.5,1110.6 422.6,1109.2 419.8,1107.8 416.9,1106.4 414.0,1105.0 411.2,1103.6 408.3,1102.2 405.5,1100.8 402.6,1099.3 399.8,1097.9 396.9,1096.4 394.1,1095.0 391.2,1093.5 388.4,1092.0 385.5,1090.5 382.7,1089.0 379.8,1087.5 376.9,1086.0 374.1,1084.5 371.2,1083.0 368.4,1081.4 365.5,1079.8 362.7,1078.3 359.8,1076.7 357.0,1075.1 354.1,1073.5 351.3,1071.9 348.4,1070.2 345.6,1068.6 342.7,1066.9 339.8,1065.3 337.0,1063.6 334.1,1061.9 331.3,1060.1 328.4,1058.4 325.6,1056.7 322.7,1054.9 319.9,1053.1 317.0,1051.3 314.2,1049.5 311.3,1047.6 308.5,1045.8 305.6,1043.9 302.7,1042.0 299.9,1040.0 297.0,1038.1 294.2,1036.1 291.3,1034.1 288.5,1032.1 285.6,1030.0 282.8,1028.0 279.9,1025.9 277.1,1023.7 274.2,1021.6 271.3,1019.4 268.5,1017.2 265.6,1015.0 262.8,1012.7 259.9,1010.4 257.1,1008.1 254.2,1005.8 251.4,1003.4 248.5,1001.0 245.7,998.6 242.8,996.2 240.0,993.8 237.1,991.4 234.2,989.0 231.4,986.4 228.5,983.8 225.7,981.3 222.8,978.7 220.0,976.1 217.1,973.4 214.3,970.8 211.4,967.6 208.6,964.3 205.7,961.1 202.9,957.8 200.0,954.5 198.6,952.4 197.3,950.2 195.9,948.1 194.6,945.9 193.2,943.8 191.9,941.6 190.5,939.5 189.1,937.3 187.8,935.2 186.4,933.0 185.1,930.9 183.7,928.7 182.4,926.5 181.0,924.2 179.7,921.9 178.3,919.6 176.9,917.3 175.6,915.0 174.2,912.7 172.9,910.4 171.5,908.1 170.2,905.7 168.8,903.4 167.4,900.8 166.1,898.1 164.7,895.3 163.4,892.6 162.0,889.9 160.7,887.2 159.3,884.4 158.0,881.7 156.6,878.1 155.2,873.3 153.9,868.5 152.5,863.7 151.2,859.0 149.8,849.5 148.5,837.5 147.1,814.0" fill="#b98a5a"/>
<polygon points="147.1,779.6 148.5,779.6 149.8,779.6 151.2,779.6 152.5,779.6 153.9,779.6 155.2,779.6 156.6,779.6 158.0,779.6 159.3,779.6 160.7,779.6 162.0,779.6 163.4,779.6 164.7,779.6 166.1,779.6 167.4,779.6 168.8,779.6 170.2,779.6 171.5,779.6 172.9,779.6 174.2,779.6 175.6,779.6 176.9,779.6 178.3,779.6 179.7,779.6 181.0,779.6 182.4,779.6 183.7,779.6 185.1,779.6 186.4,779.6 187.8,779.6 189.1,779.6 190.5,779.6 191.9,779.6 193.2,779.6 194.6,779.6 195.9,779.6 197.3,779.6 198.6,779.6 200.0,779.6 202.9,779.6 205.7,779.6 208.6,779.6 211.4,779.6 214.3,779.6 217.1,779.6 220.0,779.6 222.8,779.6 225.7,779.6 228.5,779.6 231.4,779.6 234.2,779.6 237.1,779.6 240.0,779.6 242.8,779.6 245.7,779.6 248.5,779.6 251.4,779.6 254.2,779.6 257.1,779.6 259.9,779.6 262.8,779.6 265.6,779.6 268.5,779.6 271.3,779.6 274.2,779.6 277.1,779.6 279.9,779.6 282.8,779.6 285.6,779.6 288.5,779.6 291.3,779.6 294.2,779.6 297.0,779.6 299.9,779.6 302.7,779.6 305.6,779.6 308.5,779.6 311.3,779.6 314.2,779.6 317.0,779.6 319.9,779.6 322.7,779.6 325.6,779.6 328.4,779.6 331.3,779.6 334.1,779.6 337.0,779.6 339.8,779.6 342.7,779.6 345.6,779.6 348.4,779.6 351.3,779.6 354.1,779.6 357.0,779.6 359.8,779.6 362.7,779.6 365.5,779.6 368.4,779.6 371.2,779.6 374.1,779.6 376.9,779.6 379.8,779.6 382.7,779.6 385.5,779.6 388.4,779.6 391.2,779.6 394.1,779.6 396.9,779.6 399.8,779.6 402.6,779.6 405.5,779.6 408.3,779.6 411.2,779.6 414.0,779.6 416.9,779.6 419.8,779.6 422.6,779.6 425.5,779.6 428.3,779.6 431.2,779.6 434.0,779.6 436.9,779.6 439.7,779.6 442.6,779.6 445.4,779.6 448.3,779.6 451.1,779.6 454.0,779.6 456.9,779.6 459.7,779.6 462.6,779.6 465.4,779.6 468.3,779.6 471.1,779.6 474.0,779.6 476.8,779.6 479.7,779.6 482.5,779.6 485.4,779.6 488.2,779.6 491.1,779.6 494.0,779.6 496.8,779.6 499.7,779.6 502.5,779.6 505.4,779.6 508.2,779.6 511.1,779.6 513.9,779.6 516.8,779.6 519.6,779.6 522.5,779.6 525.4,779.6 528.2,779.6 531.1,779.6 533.9,779.6 536.8,779.6 539.6,779.6 542.5,779.6 545.3,779.6 548.2,779.6 551.0,779.6 553.9,779.6 556.7,779.6 559.6,779.6 562.5,779.6 565.3,779.6 568.2,779.6 571.0,779.6 573.9,779.6 576.7,779.6 579.6,779.6 582.4,779.6 585.3,779.6 588.1,779.6 591.0,779.6 593.8,779.6 596.7,779.6 596.7,1181.9 593.8,1180.7 591.0,1179.6 588.1,1178.4 585.3,1177.3 582.4,1176.1 579.6,1175.0 576.7,1173.8 573.9,1172.7 571.0,1171.6 568.2,1170.4 565.3,1169.3 562.5,1168.1 559.6,1167.0 556.7,1165.8 553.9,1164.7 551.0,1163.6 548.2,1162.4 545.3,1161.3 542.5,1160.1 539.6,1159.0 536.8,1157.8 533.9,1156.6 531.1,1155.5 528.2,1154.3 525.4,1153.2 522.5,1152.0 519.6,1150.8 516.8,1149.7 513.9,1148.5 511.1,1147.3 508.2,1146.1 505.4,1144.9 502.5,1143.7 499.7,1142.5 496.8,1141.4 494.0,1140.2 491.1,1138.9 488.2,1137.7 485.4,1136.5 482.5,1135.3 479.7,1134.1 476.8,1132.9 474.0,1131.6 471.1,1130.4 468.3,1129.1 465.4,1127.9 462.6,1126.6 459.7,1125.4 456.9,1124.1 454.0,1122.8 451.1,1121.5 448.3,1120.3 445.4,1119.0 442.6,1117.7 439.7,1116.4 436.9,1115.0 434.0,1113.7 431.2,1112.4 428.3,1111.1 425.5,1109.7 422.6,1108.4 419.8,1107.0 416.9,1105.6 414.0,1104.3 411.2,1102.9 408.3,1101.5 405.5,1100.1 402.6,1098.7 399.8,1097.2 396.9,1095.8 394.1,1094.4 391.2,1092.9 388.4,1091.5 385.5,1090.0 382.7,1088.5 379.8,1087.0 376.9,1085.5 374.1,1084.0 371.2,1082.5 368.4,1081.0 365.5,1079.4 362.7,1077.9 359.8,1076.3 357.0,1074.7 354.1,1073.2 351.3,1071.6 348.4,1069.9 345.6,1068.3 342.7,1066.7 339.8,1065.0 337.0,1063.3 334.1,1061.7 331.3,1059.9 328.4,1058.2 325.6,1056.5 322.7,1054.7 319.9,1052.9 317.0,1051.2 314.2,1049.3 311.3,1047.5 308.5,1045.6 305.6,1043.8 302.7,1041.9 299.9,1039.9 297.0,1038.0 294.2,1036.0 291.3,1034.0 288.5,1032.0 285.6,1030.0 282.8,1027.9 279.9,1025.8 277.1,1023.7 274.2,1021.6 271.3,1019.4 268.5,1017.2 265.6,1014.9 262.8,1012.7 259.9,1010.4 257.1,1008.1 254.2,1005.8 251.4,1003.4 248.5,1001.0 245.7,998.6 242.8,996.2 240.0,993.8 237.1,991.4 234.2,989.0 231.4,986.4 228.5,983.8 225.7,981.3 222.8,978.7 220.0,976.1 217.1,973.4 214.3,970.8 211.4,967.6 208.6,964.3 205.7,961.1 202.9,957.8 200.0,954.5 198.6,952.4 197.3,950.2 195.9,948.1 194.6,945.9 193.2,943.8 191.9,941.6 190.5,939.5 189.1,937.3 187.8,935.2 186.4,933.0 185.1,930.9 183.7,928.7 182.4,926.5 181.0,924.2 179.7,921.9 178.3,919.6 176.9,917.3 175.6,915.0 174.2,912.7 172.9,910.4 171.5,908.1 170.2,905.7 168.8,903.4 167.4,900.8 166.1,898.1 164.7,895.3 163.4,892.6 162.0,889.9 160.7,887.2 159.3,884.4 158.0,881.7 156.6,878.1 155.2,873.3 153.9,868.5 152.5,863.7 151.2,859.0 149.8,849.5 148.5,837.5 147.1,814.0" fill="#ff6666"/>
<polygon points="147.1,779.6 148.5,779.6 149.8,779.6 151.2,779.6 152.5,779.6 153.9,779.6 155.2,779.6 156.6,779.6 158.0,779.6 159.3,779.6 160.7,779.6 162.0,779.6 163.4,779.6 164.7,779.6 166.1,779.6 167.4,779.6 168.8,779.6 170.2,779.6 171.5,779.6 172.9,779.6 174.2,779.6 175.6,779.6 176.9,779.6 178.3,779.6 179.7,779.6 181.0,779.6 182.4,779.6 183.7,779.6 185.1,779.6 186.4,779.6 187.8,779.6 189.1,779.6 190.5,779.6 191.9,779.6 193.2,779.6 194.6,779.6 195.9,779.6 197.3,779.6 198.6,779.6 200.0,779.6 202.9,779.6 205.7,779.6 208.6,779.6 211.4,779.6 214.3,779.6 217.1,779.6 220.0,779.6 222.8,779.6 225.7,779.6 228.5,779.6 231.4,779.6 234.2,779.6 237.1,779.6 240.0,779.6 242.8,779.6 245.7,779.6 248.5,779.6 251.4,779.6 254.2,779.6 257.1,779.6 259.9,779.6 262.8,779.6 265.6,779.6 268.5,779.6 271.3,779.6 274.2,779.6 277.1,779.6 279.9,779.6 282.8,779.6 285.6,779.6 288.5,779.6 291.3,779.6 294.2,779.6 297.0,779.6 299.9,779.6 302.7,779.6 305.6,779.6 308.5,779.6 311.3,779.6 314.2,779.6 317.0,779.6 319.9,779.6 322.7,779.6 325.6,779.6 328.4,779.6 331.3,779.6 334.1,779.6 337.0,779.6 339.8,779.6 342.7,779.6 345.6,779.6 348.4,779.6 351.3,779.6 354.1,779.6 357.0,779.6 359.8,779.6 362.7,779.6 365.5,779.6 368.4,779.6 371.2,779.6 374.1,779.6 376.9,779.6 379.8,779.6 382.7,779.6 385.5,779.6 388.4,779.6 391.2,779.6 394.1,779.6 396.9,779.6 399.8,779.6 402.6,779.6 405.5,779.6 408.3,779.6 411.2,779.6 414.0,779.6 416.9,779.6 419.8,779.6 422.6,779.6 425.5,779.6 428.3,779.6 431.2,779.6 434.0,779.6 436.9,779.6 439.7,779.6 442.6,779.6 445.4,779.6 448.3,779.6 451.1,779.6 454.0,779.6 456.9,779.6 459.7,779.6 462.6,779.6 465.4,779.6 468.3,779.6 471.1,779.6 474.0,779.6 476.8,779.6 479.7,779.6 482.5,779.6 485.4,779.6 488.2,779.6 491.1,779.6 494.0,779.6 496.8,779.6 499.7,779.6 502.5,779.6 505.4,779.6 508.2,779.6 511.1,779.6 513.9,779.6 516.8,779.6 519.6,779.6 522.5,779.6 525.4,779.6 528.2,779.6 531.1,779.6 533.9,779.6 536.8,779.6 539.6,779.6 542.5,779.6 545.3,779.6 548.2,779.6 551.0,779.6 553.9,779.6 556.7,779.6 559.6,779.6 562.5,779.6 565.3,779.6 568.2,779.6 571.0,779.6 573.9,779.6 576.7,779.6 579.6,779.6 582.4,779.6 585.3,779.6 588.1,779.6 591.0,779.6 593.8,779.6 596.7,779.6 596.7,1152.6 593.8,1151.4 591.0,1150.2 588.1,1148.9 585.3,1147.7 582.4,1146.5 579.6,1145.2 576.7,1144.0 573.9,1142.8 571.0,1141.6 568.2,1140.4 565.3,1139.2 562.5,1138.0 559.6,1136.7 556.7,1135.5 553.9,1134.3 551.0,1133.1 548.2,1131.9 545.3,1130.7 542.5,1129.5 539.6,1128.3 536.8,1127.2 533.9,1126.0 531.1,1124.8 528.2,1123.6 525.4,1122.4 522.5,1121.2 519.6,1120.0 516.8,1118.8 513.9,1117.6 511.1,1116.4 508.2,1115.2 505.4,1114.0 502.5,1112.8 499.7,1111.6 496.8,1110.4 494.0,1109.2 491.1,1108.0 488.2,1106.8 485.4,1105.5 482.5,1104.3 479.7,1103.1 476.8,1101.9 474.0,1100.7 471.1,1099.4 468.3,1098.2 465.4,1097.0 462.6,1095.7 459.7,1094.5 456.9,1093.2 454.0,1092.0 451.1,1090.7 448.3,1089.5 445.4,1088.2 442.6,1086.9 439.7,1085.6 436.9,1084.4 434.0,1083.1 431.2,1081.8 428.3,1080.5 425.5,1079.2 422.6,1077.8 419.8,1076.5 416.9,1075.2 414.0,1073.9 411.2,1072.5 408.3,1071.2 405.5,1069.8 402.6,1068.4 399.8,1067.1 396.9,1065.7 394.1,1064.3 391.2,1062.9 388.4,1061.5 385.5,1060.1 382.7,1058.7 379.8,1057.2 376.9,1055.8 374.1,1054.3 371.2,1052.9 368.4,1051.4 365.5,1049.9 362.7,1048.4 359.8,1046.9 357.0,1045.4 354.1,1043.9 351.3,1042.4 348.4,1040.8 345.6,1039.3 342.7,1037.7 339.8,1036.1 337.0,1034.5 334.1,1032.9 331.3,1031.3 328.4,1029.7 325.6,1028.0 322.7,1026.4 319.9,1024.7 317.0,1023.0 314.2,1021.4 311.3,1019.6 308.5,1017.9 305.6,1016.2 302.7,1014.4 299.9,1012.7 297.0,1010.9 294.2,1009.1 291.3,1007.3 288.5,1005.5 285.6,1003.6 282.8,1001.7 279.9,999.9 277.1,998.0 274.2,996.0 271.3,994.1 268.5,992.2 265.6,990.2 262.8,988.2 259.9,986.2 257.1,984.1 254.2,982.1 251.4,980.0 248.5,978.0 245.7,975.9 242.8,973.8 240.0,971.7 237.1,969.6 234.2,967.5 231.4,965.2 228.5,962.9 225.7,960.6 222.8,958.3 220.0,955.9 217.1,953.6 214.3,951.2 211.4,948.7 208.6,946.1 205.7,943.5 202.9,941.0 200.0,938.4 198.6,936.8 197.3,935.3 195.9,933.7 194.6,932.2 193.2,930.6 191.9,929.1 190.5,927.5 189.1,926.0 187.8,924.4 186.4,922.9 185.1,921.3 183.7,919.7 182.4,918.1 181.0,916.5 179.7,914.8 178.3,913.1 176.9,911.5 175.6,909.8 174.2,908.1 172.9,906.5 171.5,904.2 170.2,901.9 168.8,899.6 167.4,897.6 166.1,895.1 164.7,892.8 163.4,890.5 162.0,888.3 160.7,885.2 159.3,881.6 158.0,878.0 156.6,874.4 155.2,870.8 153.9,866.3 152.5,859.8 151.2,853.4 149.8,846.4 148.5,836.4 147.1,814.0" fill="#d966d9"/>
<polygon points="147.1,779.6 148.5,779.6 149.8,779.6 151.2,779.6 152.5,779.6 153.9,779.6 155.2,779.6 156.6,779.6 158.0,779.6 159.3,779.6 160.7,779.6 162.0,779.6 163.4,779.6 164.7,779.6 166.1,779.6 167.4,779.6 168.8,779.6 170.2,779.6 171.5,779.6 172.9,779.6 174.2,779.6 175.6,779.6 176.9,779.6 178.3,779.6 179.7,779.6 181.0,779.6 182.4,779.6 183.7,779.6 185.1,779.6 186.4,779.6 187.8,779.6 189.1,779.6 190.5,779.6 191.9,779.6 193.2,779.6 194.6,779.6 195.9,779.6 197.3,779.6 198.6,779.6 200.0,779.6 202.9,779.6 205.7,779.6 208.6,779.6 211.4,779.6 214.3,779.6 217.1,779.6 220.0,779.6 222.8,779.6 225.7,779.6 228.5,779.6 231.4,779.6 234.2,779.6 237.1,779.6 240.0,779.6 242.8,779.6 245.7,779.6 248.5,779.6 251.4,779.6 254.2,779.6 257.1,779.6 259.9,779.6 262.8,779.6 265.6,779.6 268.5,779.6 271.3,779.6 274.2,779.6 277.1,779.6 279.9,779.6 282.8,779.6 285.6,779.6 288.5,779.6 291.3,779.6 294.2,779.6 297.0,779.6 299.9,779.6 302.7,779.6 305.6,779.6 308.5,779.6 311.3,779.6 314.2,779.6 317.0,779.6 319.9,779.6 322.7,779.6 325.6,779.6 328.4,779.6 331.3,779.6 334.1,779.6 337.0,779.6 339.8,779.6 342.7,779.6 345.6,779.6 348.4,779.6 351.3,779.6 354.1,779.6 357.0,779.6 359.8,779.6 362.7,779.6 365.5,779.6 368.4,779.6 371.2,779.6 374.1,779.6 376.9,779.6 379.8,779.6 382.7,779.6 385.5,779.6 388.4,779.6 391.2,779.6 394.1,779.6 396.9,779.6 399.8,779.6 402.6,779.6 405.5,779.6 408.3,779.6 411.2,779.6 414.0,779.6 416.9,779.6 419.8,779.6 422.6,779.6 425.5,779.6 428.3,779.6 431.2,779.6 434.0,779.6 436.9,779.6 439.7,779.6 442.6,779.6 445.4,779.6 448.3,779.6 451.1,779.6 454.0,779.6 456.9,779.6 459.7,779.6 462.6,779.6 465.4,779.6 468.3,779.6 471.1,779.6 474.0,779.6 476.8,779.6 479.7,779.6 482.5,779.6 485.4,779.6 488.2,779.6 491.1,779.6 494.0,779.6 496.8,779.6 499.7,779.6 502.5,779.6 505.4,779.6 508.2,779.6 511.1,779.6 513.9,779.6 516.8,779.6 519.6,779.6 522.5,779.6 525.4,779.6 528.2,779.6 531.1,779.6 533.9,779.6 536.8,779.6 539.6,779.6 542.5,779.6 545.3,779.6 548.2,779.6 551.0,779.6 553.9,779.6 556.7,779.6 559.6,779.6 562.5,779.6 565.3,779.6 568.2,779.6 571.0,779.6 573.9,779.6 576.7,779.6 579.6,779.6 582.4,779.6 585.3,779.6 588.1,779.6 591.0,779.6 593.8,779.6 596.7,779.6 596.7,1124.7 593.8,1123.7 591.0,1122.6 588.1,1121.6 585.3,1120.5 582.4,1119.5 579.6,1118.4 576.7,1117.3 573.9,1116.3 571.0,1115.2 568.2,1114.2 565.3,1113.1 562.5,1112.1 559.6,1111.0 556.7,1109.9 553.9,1108.9 551.0,1107.8 548.2,1106.8 545.3,1105.7 542.5,1104.6 539.6,1103.6 536.8,1102.5 533.9,1101.4 531.1,1100.4 528.2,1099.3 525.4,1098.2 522.5,1097.1 519.6,1096.1 516.8,1095.0 513.9,1093.9 511.1,1092.8 508.2,1091.7 505.4,1090.7 502.5,1089.6 499.7,1088.5 496.8,1087.4 494.0,1086.3 491.1,1085.2 488.2,1084.1 485.4,1083.0 482.5,1081.9 479.7,1080.7 476.8,1079.6 474.0,1078.5 471.1,1077.4 468.3,1076.3 465.4,1075.1 462.6,1074.0 459.7,1072.9 456.9,1071.7 454.0,1070.6 451.1,1069.4 448.3,1068.2 445.4,1067.1 442.6,1065.9 439.7,1064.7 436.9,1063.6 434.0,1062.4 431.2,1061.2 428.3,1060.0 425.5,1058.8 422.6,1057.6 419.8,1056.4 416.9,1055.2 414.0,1054.0 411.2,1052.8 408.3,1051.5 405.5,1050.3 402.6,1049.0 399.8,1047.8 396.9,1046.5 394.1,1045.3 391.2,1044.0 388.4,1042.7 385.5,1041.5 382.7,1040.2 379.8,1038.9 376.9,1037.6 374.1,1036.3 371.2,1034.9 368.4,1033.6 365.5,1032.3 362.7,1031.0 359.8,1029.6 357.0,1028.3 354.1,1026.9 351.3,1025.5 348.4,1024.1 345.6,1022.8 342.7,1021.4 339.8,1020.0 337.0,1018.6 334.1,1017.1 331.3,1015.7 328.4,1014.3 325.6,1012.8 322.7,1011.4 319.9,1009.9 317.0,1008.4 314.2,1006.9 311.3,1005.4 308.5,1003.9 305.6,1002.4 302.7,1000.8 299.9,999.2 297.0,997.7 294.2,996.1 291.3,994.5 288.5,992.9 285.6,991.2 282.8,989.6 279.9,987.9 277.1,986.2 274.2,984.5 271.3,982.8 268.5,981.1 265.6,979.3 262.8,977.5 259.9,975.7 257.1,973.9 254.2,972.1 251.4,970.3 248.5,968.5 245.7,966.8 242.8,965.0 240.0,963.3 237.1,961.6 234.2,959.8 231.4,957.8 228.5,955.8 225.7,953.7 222.8,951.5 220.0,949.4 217.1,947.1 214.3,944.9 211.4,942.4 208.6,940.0 205.7,937.5 202.9,935.0 200.0,932.5 198.6,931.2 197.3,929.9 195.9,928.6 194.6,927.3 193.2,926.0 191.9,924.7 190.5,923.4 189.1,922.1 187.8,920.8 186.4,919.4 185.1,917.9 183.7,916.4 182.4,914.9 181.0,913.4 179.7,911.9 178.3,910.4 176.9,908.9 175.6,907.4 174.2,906.0 172.9,904.5 171.5,902.2 170.2,900.5 168.8,899.0 167.4,897.6 166.1,895.1 164.7,892.4 163.4,889.7 162.0,887.0 160.7,883.7 159.3,880.2 158.0,876.7 156.6,873.2 155.2,869.7 153.9,865.3 152.5,859.0 151.2,852.7 149.8,845.9 148.5,836.1 147.1,814.0" fill="#6666ff"/>
<polygon points="147.1,779.6 148.5,779.6 149.8,779.6 151.2,779.6 152.5,779.6 153.9,779.6 155.2,779.6 156.6,779.6 158.0,779.6 159.3,779.6 160.7,779.6 162.0,779.6 163.4,779.6 164.7,779.6 166.1,779.6 167.4,779.6 168.8,779.6 170.2,779.6 171.5,779.6 172.9,779.6 174.2,779.6 175.6,779.6 176.9,779.6 178.3,779.6 179.7,779.6 181.0,779.6 182.4,779.6 183.7,779.6 185.1,779.6 186.4,779.6 187.8,779.6 189.1,779.6 190.5,779.6 191.9,779.6 193.2,779.6 194.6,779.6 195.9,779.6 197.3,779.6 198.6,779.6 200.0,779.6 202.9,779.6 205.7,779.6 208.6,779.6 211.4,779.6 214.3,779.6 217.1,779.6 220.0,779.6 222.8,779.6 225.7,779.6 228.5,779.6 231.4,779.6 234.2,779.6 237.1,779.6 240.0,779.6 242.8,779.6 245.7,779.6 248.5,779.6 251.4,779.6 254.2,779.6 257.1,779.6 259.9,779.6 262.8,779.6 265.6,779.6 268.5,779.6 271.3,779.6 274.2,779.6 277.1,779.6 279.9,779.6 282.8,779.6 285.6,779.6 288.5,779.6 291.3,779.6 294.2,779.6 297.0,779.6 299.9,779.6 302.7,779.6 305.6,779.6 308.5,779.6 311.3,779.6 314.2,779.6 317.0,779.6 319.9,779.6 322.7,779.6 325.6,779.6 328.4,779.6 331.3,779.6 334.1,779.6 337.0,779.6 339.8,779.6 342.7,779.6 345.6,779.6 348.4,779.6 351.3,779.6 354.1,779.6 357.0,779.6 359.8,779.6 362.7,779.6 365.5,779.6 368.4,779.6 371.2,779.6 374.1,779.6 376.9,779.6 379.8,779.6 382.7,779.6 385.5,779.6 388.4,779.6 391.2,779.6 394.1,779.6 396.9,779.6 399.8,779.6 402.6,779.6 405.5,779.6 408.3,779.6 411.2,779.6 414.0,779.6 416.9,779.6 419.8,779.6 422.6,779.6 425.5,779.6 428.3,779.6 431.2,779.6 434.0,779.6 436.9,779.6 439.7,779.6 442.6,779.6 445.4,779.6 448.3,779.6 451.1,779.6 454.0,779.6 456.9,779.6 459.7,779.6 462.6,779.6 465.4,779.6 468.3,779.6 471.1,779.6 474.0,779.6 476.8,779.6 479.7,779.6 482.5,779.6 485.4,779.6 488.2,779.6 491.1,779.6 494.0,779.6 496.8,779.6 499.7,779.6 502.5,779.6 505.4,779.6 508.2,779.6 511.1,779.6 513.9,779.6 516.8,779.6 519.6,779.6 522.5,779.6 525.4,779.6 528.2,779.6 531.1,779.6 533.9,779.6 536.8,779.6 539.6,779.6 542.5,779.6 545.3,779.6 548.2,779.6 551.0,779.6 553.9,779.6 556.7,779.6 559.6,779.6 562.5,779.6 565.3,779.6 568.2,779.6 571.0,779.6 573.9,779.6 576.7,779.6 579.6,779.6 582.4,779.6 585.3,779.6 588.1,779.6 591.0,779.6 593.8,779.6 596.7,779.6 596.7,1030.9 593.8,1030.3 591.0,1029.8 588.1,1029.3 585.3,1028.7 582.4,1028.2 579.6,1027.6 576.7,1027.1 573.9,1026.6 571.0,1026.0 568.2,1025.5 565.3,1025.0 562.5,1024.4 559.6,1023.9 556.7,1023.4 553.9,1022.8 551.0,1022.3 548.2,1021.8 545.3,1021.2 542.5,1020.7 539.6,1020.2 536.8,1019.6 533.9,1019.1 531.1,1018.6 528.2,1018.0 525.4,1017.5 522.5,1017.0 519.6,1016.4 516.8,1015.9 513.9,1015.4 511.1,1014.8 508.2,1014.3 505.4,1013.7 502.5,1013.2 499.7,1012.6 496.8,1012.1 494.0,1011.5 491.1,1011.0 488.2,1010.4 485.4,1009.9 482.5,1009.3 479.7,1008.7 476.8,1008.2 474.0,1007.6 471.1,1007.0 468.3,1006.5 465.4,1005.9 462.6,1005.3 459.7,1004.7 456.9,1004.1 454.0,1003.6 451.1,1003.0 448.3,1002.4 445.4,1001.8 442.6,1001.2 439.7,1000.6 436.9,999.9 434.0,999.3 431.2,998.7 428.3,998.1 425.5,997.5 422.6,996.8 419.8,996.2 416.9,995.6 414.0,994.9 411.2,994.3 408.3,993.6 405.5,992.9 402.6,992.3 399.8,991.6 396.9,990.9 394.1,990.2 391.2,989.6 388.4,988.9 385.5,988.2 382.7,987.5 379.8,986.7 376.9,986.0 374.1,985.3 371.2,984.6 368.4,983.8 365.5,983.1 362.7,982.3 359.8,981.6 357.0,980.8 354.1,980.1 351.3,979.3 348.4,978.5 345.6,977.7 342.7,976.9 339.8,976.1 337.0,975.3 334.1,974.5 331.3,973.6 328.4,972.8 325.6,972.0 322.7,971.1 319.9,970.2 317.0,969.4 314.2,968.5 311.3,967.6 308.5,966.7 305.6,965.8 302.7,964.9 299.9,964.0 297.0,963.1 294.2,962.1 291.3,961.2 288.5,960.2 285.6,959.3 282.8,958.3 279.9,957.3 277.1,956.3 274.2,955.3 271.3,954.3 268.5,953.3 265.6,952.2 262.8,951.2 259.9,950.1 257.1,949.1 254.2,948.0 251.4,946.9 248.5,945.8 245.7,944.7 242.8,943.6 240.0,942.5 237.1,941.4 234.2,940.3 231.4,939.3 228.5,938.2 225.7,937.1 222.8,935.9 220.0,934.6 217.1,933.3 214.3,932.0 211.4,930.7 208.6,929.3 205.7,928.0 202.9,926.5 200.0,924.8 198.6,923.9 197.3,923.1 195.9,922.3 194.6,921.5 193.2,920.7 191.9,919.9 190.5,919.0 189.1,918.0 187.8,916.8 186.4,915.7 185.1,914.5 183.7,913.4 182.4,912.2 181.0,911.0 179.7,909.9 178.3,908.7 176.9,907.6 175.6,906.4 174.2,904.9 172.9,903.4 171.5,902.0 170.2,900.5 168.8,899.0 167.4,897.6 166.1,895.1 164.7,892.4 163.4,889.7 162.0,887.0 160.7,883.7 159.3,880.2 158.0,876.7 156.6,873.2 155.2,869.7 153.9,865.3 152.5,859.0 151.2,852.7 149.8,845.9 148.5,836.1 147.1,814.0" fill="#66b366"/>
<polygon points="147.1,779.6 148.5,779.6 149.8,779.6 151.2,779.6 152.5,779.6 153.9,779.6 155.2,779.6 156.6,779.6 158.0,779.6 159.3,779.6 160.7,779.6 162.0,779.6 163.4,779.6 164.7,779.6 166.1,779.6 167.4,779.6 168.8,779.6 170.2,779.6 171.5,779.6 172.9,779.6 174.2,779.6 175.6,779.6 176.9,779.6 178.3,779.6 179.7,779.6 181.0,779.6 182.4,779.6 183.7,779.6 185.1,779.6 186.4,779.6 187.8,779.6 189.1,779.6 190.5,779.6 191.9,779.6 193.2,779.6 194.6,779.6 195.9,779.6 197.3,779.6 198.6,779.6 200.0,779.6 202.9,779.6 205.7,779.6 208.6,779.6 211.4,779.6 214.3,779.6 217.1,779.6 220.0,779.6 222.8,779.6 225.7,779.6 228.5,779.6 231.4,779.6 234.2,779.6 237.1,779.6 240.0,779.6 242.8,779.6 245.7,779.6 248.5,779.6 251.4,779.6 254.2,779.6 257.1,779.6 259.9,779.6 262.8,779.6 265.6,779.6 268.5,779.6 271.3,779.6 274.2,779.6 277.1,779.6 279.9,779.6 282.8,779.6 285.6,779.6 288.5,779.6 291.3,779.6 294.2,779.6 297.0,779.6 299.9,779.6 302.7,779.6 305.6,779.6 308.5,779.6 311.3,779.6 314.2,779.6 317.0,779.6 319.9,779.6 322.7,779.6 325.6,779.6 328.4,779.6 331.3,779.6 334.1,779.6 337.0,779.6 339.8,779.6 342.7,779.6 345.6,779.6 348.4,779.6 351.3,779.6 354.1,779.6 357.0,779.6 359.8,779.6 362.7,779.6 365.5,779.6 368.4,779.6 371.2,779.6 374.1,779.6 376.9,779.6 379.8,779.6 382.7,779.6 385.5,779.6 388.4,779.6 391.2,779.6 394.1,779.6 396.9,779.6 399.8,779.6 402.6,779.6 405.5,779.6 408.3,779.6 411.2,779.6 414.0,779.6 416.9,779.6 419.8,779.6 422.6,779.6 425.5,779.6 428.3,779.6 431.2,779.6 434.0,779.6 436.9,779.6 439.7,779.6 442.6,779.6 445.4,779.6 448.3,779.6 451.1,779.6 454.0,779.6 456.9,779.6 459.7,779.6 462.6,779.6 465.4,779.6 468.3,779.6 471.1,779.6 474.0,779.6 476.8,779.6 479.7,779.6 482.5,779.6 485.4,779.6 488.2,779.6 491.1,779.6 494.0,779.6 496.8,779.6 499.7,779.6 502.5,779.6 505.4,779.6 508.2,779.6 511.1,779.6 513.9,779.6 516.8,779.6 519.6,779.6 522.5,779.6 525.4,779.6 528.2,779.6 531.1,779.6 533.9,779.6 536.8,779.6 539.6,779.6 542.5,779.6 545.3,779.6 548.2,779.6 551.0,779.6 553.9,779.6 556.7,779.6 559.6,779.6 562.5,779.6 565.3,779.6 568.2,779.6 571.0,779.6 573.9,779.6 576.7,779.6 579.6,779.6 582.4,779.6 585.3,779.6 588.1,779.6 591.0,779.6 593.8,779.6 596.7,779.6 596.7,1001.7 593.8,1001.3 591.0,1000.8 588.1,1000.4 585.3,999.9 582.4,999.5 579.6,999.1 576.7,998.6 573.9,998.2 571.0,997.8 568.2,997.3 565.3,996.9 562.5,996.5 559.6,996.1 556.7,995.7 553.9,995.2 551.0,994.8 548.2,994.4 545.3,994.0 542.5,993.6 539.6,993.2 536.8,992.8 533.9,992.4 531.1,992.0 528.2,991.6 525.4,991.2 522.5,990.8 519.6,990.4 516.8,990.0 513.9,989.6 511.1,989.2 508.2,988.8 505.4,988.4 502.5,988.0 499.7,987.6 496.8,987.2 494.0,986.8 491.1,986.4 488.2,986.0 485.4,985.5 482.5,985.1 479.7,984.7 476.8,984.3 474.0,983.9 471.1,983.5 468.3,983.1 465.4,982.7 462.6,982.3 459.7,981.8 456.9,981.4 454.0,981.0 451.1,980.6 448.3,980.1 445.4,979.7 442.6,979.3 439.7,978.8 436.9,978.4 434.0,977.9 431.2,977.5 428.3,977.0 425.5,976.6 422.6,976.1 419.8,975.7 416.9,975.2 414.0,974.7 411.2,974.3 408.3,973.8 405.5,973.3 402.6,972.8 399.8,972.3 396.9,971.8 394.1,971.3 391.2,970.8 388.4,970.3 385.5,969.8 382.7,969.3 379.8,968.7 376.9,968.2 374.1,967.7 371.2,967.1 368.4,966.6 365.5,966.0 362.7,965.5 359.8,964.9 357.0,964.3 354.1,963.7 351.3,963.2 348.4,962.6 345.6,962.0 342.7,961.3 339.8,960.7 337.0,960.1 334.1,959.5 331.3,958.8 328.4,958.2 325.6,957.5 322.7,956.9 319.9,956.2 317.0,955.5 314.2,954.9 311.3,954.2 308.5,953.5 305.6,952.7 302.7,952.0 299.9,951.3 297.0,950.6 294.2,949.8 291.3,949.1 288.5,948.3 285.6,947.5 282.8,946.7 279.9,946.0 277.1,945.2 274.2,944.3 271.3,943.5 268.5,942.7 265.6,941.8 262.8,941.0 259.9,940.1 257.1,939.3 254.2,938.4 251.4,937.6 248.5,936.7 245.7,935.9 242.8,935.0 240.0,934.2 237.1,933.3 234.2,932.5 231.4,931.6 228.5,930.8 225.7,929.9 222.8,928.8 220.0,927.6 217.1,926.5 214.3,925.3 211.4,924.0 208.6,922.8 205.7,921.6 202.9,920.1 200.0,918.6 198.6,917.8 197.3,917.1 195.9,916.3 194.6,915.6 193.2,914.8 191.9,914.1 190.5,913.3 189.1,912.4 187.8,911.5 186.4,910.5 185.1,909.6 183.7,908.6 182.4,907.6 181.0,906.7 179.7,905.7 178.3,904.8 176.9,903.8 175.6,902.8 174.2,901.4 172.9,900.1 171.5,898.8 170.2,897.4 168.8,896.1 167.4,894.7 166.1,893.4 164.7,892.0 163.4,889.7 162.0,887.0 160.7,883.7 159.3,880.2 158.0,876.7 156.6,873.2 155.2,869.7 153.9,865.3 152.5,859.0 151.2,852.7 149.8,845.9 148.5,836.1 147.1,814.0" fill="#857ab8"/>
</g>
<g clip-path="url(#fb)" stroke="#fff" stroke-opacity=".14" stroke-width="1.15" stroke-dasharray="4.6 2.6">
<line x1="271.0" x2="271.0" y1="753.6" y2="1309.8"/>
<line x1="395.1" x2="395.1" y1="753.6" y2="1309.8"/>
<line x1="519.2" x2="519.2" y1="753.6" y2="1309.8"/>
<line x1="146.9" x2="593.7" y1="846.3" y2="846.3"/>
<line x1="146.9" x2="593.7" y1="939.0" y2="939.0"/>
<line x1="146.9" x2="593.7" y1="1031.7" y2="1031.7"/>
<line x1="146.9" x2="593.7" y1="1124.4" y2="1124.4"/>
<line x1="146.9" x2="593.7" y1="1217.1" y2="1217.1"/>
</g>
<line x1="146.9" x2="593.7" y1="779.6" y2="779.6" stroke="#000" stroke-width="4.44"/>
<polyline clip-path="url(#cb)" points="147.1,814.0 148.5,836.1 149.8,845.9 151.2,852.7 152.5,859.0 153.9,865.3 155.2,869.7 156.6,873.2 158.0,876.7 159.3,880.2 160.7,883.7 162.0,886.7 163.4,889.0 164.7,891.2 166.1,893.4 167.4,895.6 168.8,897.8 170.2,900.0 171.5,902.2 172.9,904.5 174.2,906.0 175.6,907.4 176.9,908.9 178.3,910.4 179.7,911.9 181.0,913.4 182.4,914.9 183.7,916.4 185.1,917.9 186.4,919.4 187.8,920.8 189.1,922.1 190.5,923.4 191.9,924.7 193.2,926.0 194.6,927.3 195.9,928.6 197.3,929.9 198.6,931.2 200.0,932.5 202.9,935.0 205.7,937.5 208.6,940.0 211.4,942.4 214.3,944.9 217.1,947.1 220.0,949.4 222.8,951.5 225.7,953.7 228.5,955.8 231.4,957.8 234.2,959.8 237.1,961.6 240.0,963.3 242.8,965.0 245.7,966.8 248.5,968.5 251.4,970.3 254.2,972.1 257.1,973.9 259.9,975.7 262.8,977.5 265.6,979.3 268.5,981.1 271.3,982.8 274.2,984.5 277.1,986.2 279.9,987.9 282.8,989.6 285.6,991.2 288.5,992.9 291.3,994.5 294.2,996.1 297.0,997.7 299.9,999.2 302.7,1000.8 305.6,1002.4 308.5,1003.9 311.3,1005.4 314.2,1006.9 317.0,1008.4 319.9,1009.9 322.7,1011.4 325.6,1012.8 328.4,1014.3 331.3,1015.7 334.1,1017.1 337.0,1018.6 339.8,1020.0 342.7,1021.4 345.6,1022.8 348.4,1024.1 351.3,1025.5 354.1,1026.9 357.0,1028.3 359.8,1029.6 362.7,1031.0 365.5,1032.3 368.4,1033.6 371.2,1034.9 374.1,1036.3 376.9,1037.6 379.8,1038.9 382.7,1040.2 385.5,1041.5 388.4,1042.7 391.2,1044.0 394.1,1045.3 396.9,1046.5 399.8,1047.8 402.6,1049.0 405.5,1050.3 408.3,1051.5 411.2,1052.8 414.0,1054.0 416.9,1055.2 419.8,1056.4 422.6,1057.6 425.5,1058.8 428.3,1060.0 431.2,1061.2 434.0,1062.4 436.9,1063.6 439.7,1064.7 442.6,1065.9 445.4,1067.1 448.3,1068.2 451.1,1069.4 454.0,1070.6 456.9,1071.7 459.7,1072.9 462.6,1074.0 465.4,1075.1 468.3,1076.3 471.1,1077.4 474.0,1078.5 476.8,1079.6 479.7,1080.7 482.5,1081.9 485.4,1083.0 488.2,1084.1 491.1,1085.2 494.0,1086.3 496.8,1087.4 499.7,1088.5 502.5,1089.6 505.4,1090.7 508.2,1091.7 511.1,1092.8 513.9,1093.9 516.8,1095.0 519.6,1096.1 522.5,1097.1 525.4,1098.2 528.2,1099.3 531.1,1100.4 533.9,1101.4 536.8,1102.5 539.6,1103.6 542.5,1104.6 545.3,1105.7 548.2,1106.8 551.0,1107.8 553.9,1108.9 556.7,1109.9 559.6,1111.0 562.5,1112.1 565.3,1113.1 568.2,1114.2 571.0,1115.2 573.9,1116.3 576.7,1117.3 579.6,1118.4 582.4,1119.5 585.3,1120.5 588.1,1121.6 591.0,1122.6 593.8,1123.7 596.7,1124.7" fill="none" stroke="#000" stroke-width="4.44" stroke-dasharray="16.4 7.1"/>
<line x1="146.90" x2="146.90" y1="751.94" y2="1311.47" class="s"/>
<line x1="145.24" x2="595.32" y1="1309.80" y2="1309.80" class="s"/>
<line x1="135.40" x2="146.90" y1="753.60" y2="753.60" class="s"/>
<text x="126.6" y="764.5" font-size="27.78" fill="#000" text-anchor="end" class="t">1.25</text>
<line x1="135.40" x2="146.90" y1="846.30" y2="846.30" class="s"/>
<text x="126.6" y="857.2" font-size="27.78" fill="#000" text-anchor="end" class="t">1.00</text>
<line x1="135.40" x2="146.90" y1="939.00" y2="939.00" class="s"/>
<text x="126.6" y="949.9" font-size="27.78" fill="#000" text-anchor="end" class="t">0.75</text>
<line x1="135.40" x2="146.90" y1="1031.70" y2="1031.70" class="s"/>
<text x="126.6" y="1042.6" font-size="27.78" fill="#000" text-anchor="end" class="t">0.50</text>
<line x1="135.40" x2="146.90" y1="1124.40" y2="1124.40" class="s"/>
<text x="126.6" y="1135.3" font-size="27.78" fill="#000" text-anchor="end" class="t">0.25</text>
<line x1="135.40" x2="146.90" y1="1217.10" y2="1217.10" class="s"/>
<text x="126.6" y="1228.0" font-size="27.78" fill="#000" text-anchor="end" class="t">0.00</text>
<line x1="135.40" x2="146.90" y1="1309.80" y2="1309.80" class="s"/>
<text x="126.6" y="1320.7" font-size="27.78" fill="#000" text-anchor="end" class="t"><tspan fill="#2b2b2b" stroke="#fff" stroke-width=".5">−</tspan>0.25</text>
<line x1="146.90" x2="146.90" y1="1309.80" y2="1321.30" class="s"/>
<text x="144.7" y="1350.2" font-size="27.78" fill="#000" text-anchor="middle" class="t">0.0</text>
<line x1="271.00" x2="271.00" y1="1309.80" y2="1321.30" class="s"/>
<text x="268.8" y="1350.2" font-size="27.78" fill="#000" text-anchor="middle" class="t">0.5</text>
<line x1="395.10" x2="395.10" y1="1309.80" y2="1321.30" class="s"/>
<text x="392.9" y="1350.2" font-size="27.78" fill="#000" text-anchor="middle" class="t">1.0</text>
<line x1="519.20" x2="519.20" y1="1309.80" y2="1321.30" class="s"/>
<text x="517.0" y="1350.2" font-size="27.78" fill="#000" text-anchor="middle" class="t">1.5</text>
</g>
<text font-size="46.2"><tspan x="369.5" y="765.2" textLength="22" lengthAdjust="spacingAndGlyphs" stroke="#fff" stroke-width=".6">(</tspan><tspan x="390.4" y="762.5" font-size="43.6">b</tspan><tspan x="416.5" y="765.2" textLength="22" lengthAdjust="spacingAndGlyphs" stroke="#fff" stroke-width=".6">)</tspan></text>
<text transform="translate(26.6,1032.7) rotate(-90)" font-size="33.33" text-anchor="middle" letter-spacing=".31">Cell Potential (V)</text>
<text x="236.8" y="1391.3" font-size="33.33">Current (A/cm<tspan font-size="23.33" dy="-11.5">2</tspan><tspan dy="12.6" dx="2.5">)</tspan></text>
<text id="b0" x="655.6" y="788.0" font-size="30.56" fill="#000000" text-anchor="start"  textLength="66.18" lengthAdjust="spacing">OCV</text>
<polyline points="651.6,779.5 612.9,779.5" fill="none" stroke="#000000" stroke-width="3.45" stroke-linecap="round" stroke-linejoin="miter"/>
<polygon points="602.2,779.5 614.9,774.3 614.9,784.7" fill="#000000" stroke="#000000" stroke-width="2" stroke-linejoin="round"/>
<text id="b1" x="655.6" y="896.3" font-size="30.56" fill="#332288" text-anchor="start"  textLength="253.68" lengthAdjust="spacing">Cathode kinetics</text>
<polyline points="650.8,887.8 612.9,889.6" fill="none" stroke="#332288" stroke-width="3.45" stroke-linecap="round" stroke-linejoin="miter"/>
<polygon points="602.2,890.1 614.6,884.3 615.1,894.7" fill="#332288" stroke="#332288" stroke-width="2" stroke-linejoin="round"/>
<text id="b2" x="655.6" y="1024.4" font-size="30.56" fill="#008000" text-anchor="start"  textLength="225.24" lengthAdjust="spacing">Anode kinetics</text>
<polyline points="651.2,1015.9 612.6,1015.9" fill="none" stroke="#008000" stroke-width="3.45" stroke-linecap="round" stroke-linejoin="miter"/>
<polygon points="601.9,1015.9 614.6,1010.7 614.6,1021.1" fill="#008000" stroke="#008000" stroke-width="2" stroke-linejoin="round"/>
<text id="b3" x="655.6" y="1085.6" font-size="30.56" fill="#0000ff" text-anchor="start"  textLength="263.43" lengthAdjust="spacing">Membrane ohmic</text>
<polyline points="651.2,1077.1 612.6,1078.6" fill="none" stroke="#0000ff" stroke-width="3.45" stroke-linecap="round" stroke-linejoin="miter"/>
<polygon points="601.9,1079.0 614.4,1073.3 614.8,1083.7" fill="#0000ff" stroke="#0000ff" stroke-width="2" stroke-linejoin="round"/>
<text id="b4" x="655.6" y="1129.5" font-size="30.56" fill="#000000" text-anchor="start"  textLength="270.64" lengthAdjust="spacing">Polarization curve</text>
<polyline points="651.1,1121.0 611.5,1121.0" fill="none" stroke="#000000" stroke-width="3.45" stroke-linecap="round" stroke-linejoin="miter"/>
<polygon points="600.8,1121.0 613.5,1115.8 613.5,1126.2" fill="#000000" stroke="#000000" stroke-width="2" stroke-linejoin="round"/>
<text id="b5" x="655.6" y="1166.6" font-size="30.56" fill="#bf00bf" text-anchor="start"  textLength="199.34" lengthAdjust="spacing">Anode ohmic</text>
<polyline points="651.0,1158.1 631.4,1158.1 611.2,1148.8" fill="none" stroke="#bf00bf" stroke-width="3.45" stroke-linecap="round" stroke-linejoin="miter"/>
<polygon points="601.5,1144.4 615.2,1144.9 610.8,1154.4" fill="#bf00bf" stroke="#bf00bf" stroke-width="2" stroke-linejoin="round"/>
<text id="b6" x="655.6" y="1202.7" font-size="30.56" fill="#ff0000" text-anchor="start"  textLength="228.96" lengthAdjust="spacing">Cathode ohmic</text>
<polyline points="651.0,1194.2 629.0,1194.2 609.6,1180.6" fill="none" stroke="#ff0000" stroke-width="3.45" stroke-linecap="round" stroke-linejoin="miter"/>
<polygon points="600.8,1174.5 614.2,1177.5 608.2,1186.1" fill="#ff0000" stroke="#ff0000" stroke-width="2" stroke-linejoin="round"/>
<text id="b7" x="655.6" y="1236.3" font-size="30.56" fill="#bf812d" text-anchor="start"  textLength="336.26" lengthAdjust="spacing">Agglomerate diffusion</text>
<polyline points="651.0,1227.8 637.7,1227.8 607.6,1198.3" fill="none" stroke="#bf812d" stroke-width="3.45" stroke-linecap="round" stroke-linejoin="miter"/>
<polygon points="599.9,1190.8 612.7,1196.0 605.4,1203.4" fill="#bf812d" stroke="#bf812d" stroke-width="2" stroke-linejoin="round"/>
<text id="b8" x="655.6" y="1272.9" font-size="30.56" fill="#35978f" text-anchor="start"  textLength="340.11" lengthAdjust="spacing">Cathode bulk diffusion</text>
<polyline points="651.0,1264.4 638.5,1264.4 603.1,1204.5" fill="none" stroke="#35978f" stroke-width="3.45" stroke-linecap="round" stroke-linejoin="miter"/>
<polygon points="597.6,1195.3 608.6,1203.6 599.6,1208.9" fill="#35978f" stroke="#35978f" stroke-width="2" stroke-linejoin="round"/>
<text id="b9" x="655.6" y="1308.0" font-size="30.56" fill="#ffa500" text-anchor="start"  textLength="311.09" lengthAdjust="spacing">Anode bulk diffusion</text>
<polyline points="651.0,1299.5 631.4,1299.5 600.0,1214.5" fill="none" stroke="#ffa500" stroke-width="3.45" stroke-linecap="round" stroke-linejoin="miter"/>
<polygon points="596.3,1204.5 605.5,1214.6 595.8,1218.2" fill="#ffa500" stroke="#ffa500" stroke-width="2" stroke-linejoin="round"/>
</svg></body></html>
